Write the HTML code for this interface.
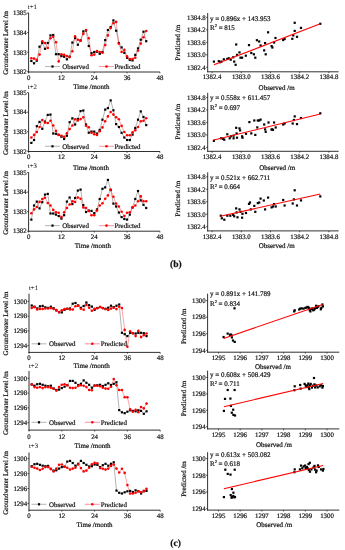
<!DOCTYPE html>
<html><head><meta charset="utf-8"><title>Figure</title>
<style>
html,body{margin:0;padding:0;background:#fff;}
body{width:345px;height:550px;overflow:hidden;}
svg{display:block;}
svg text{font-family:"Liberation Serif", "Times New Roman", serif;fill:#111;stroke:#111;stroke-width:0.2px;text-rendering:geometricPrecision;}
</style></head><body>
<svg width="345" height="550" viewBox="0 0 345 550">
<rect width="345" height="550" fill="#fff"/>
<text x="27.8" y="9.2" font-size="6.7" text-anchor="start" style="stroke-width:0.04px">t+1</text>
<line x1="28.6" y1="12.7" x2="28.6" y2="72.45" stroke="#1a1a1a" stroke-width="0.9"/>
<line x1="28.15" y1="72" x2="159.9" y2="72" stroke="#1a1a1a" stroke-width="0.9"/>
<line x1="27" y1="13.1" x2="28.6" y2="13.1" stroke="#1a1a1a" stroke-width="0.7"/>
<text x="26.7" y="15.4" font-size="6.85" text-anchor="end">1385</text>
<line x1="27" y1="32.65" x2="28.6" y2="32.65" stroke="#1a1a1a" stroke-width="0.7"/>
<text x="26.7" y="34.95" font-size="6.85" text-anchor="end">1384</text>
<line x1="27" y1="52.2" x2="28.6" y2="52.2" stroke="#1a1a1a" stroke-width="0.7"/>
<text x="26.7" y="54.5" font-size="6.85" text-anchor="end">1383</text>
<line x1="27" y1="71.75" x2="28.6" y2="71.75" stroke="#1a1a1a" stroke-width="0.7"/>
<text x="26.7" y="74.05" font-size="6.85" text-anchor="end">1382</text>
<line x1="28.6" y1="72" x2="28.6" y2="73.4" stroke="#1a1a1a" stroke-width="0.7"/>
<text x="28.6" y="79.5" font-size="6.85" text-anchor="middle">0</text>
<line x1="61.43" y1="72" x2="61.43" y2="73.4" stroke="#1a1a1a" stroke-width="0.7"/>
<text x="61.43" y="79.5" font-size="6.85" text-anchor="middle">12</text>
<line x1="94.25" y1="72" x2="94.25" y2="73.4" stroke="#1a1a1a" stroke-width="0.7"/>
<text x="94.25" y="79.5" font-size="6.85" text-anchor="middle">24</text>
<line x1="127.08" y1="72" x2="127.08" y2="73.4" stroke="#1a1a1a" stroke-width="0.7"/>
<text x="127.08" y="79.5" font-size="6.85" text-anchor="middle">36</text>
<line x1="159.9" y1="72" x2="159.9" y2="73.4" stroke="#1a1a1a" stroke-width="0.7"/>
<text x="159.9" y="79.5" font-size="6.85" text-anchor="middle">48</text>
<text x="73.3" y="89.3" font-size="7" text-anchor="start">Time /month</text>
<text transform="translate(7.6 42.85) rotate(-90)" font-size="7" text-anchor="middle">Groundwater Level /m</text>
<polyline points="31.34,61 34.07,63.3 36.81,60.7 39.54,46.7 42.28,43 45.01,48.8 47.75,43 50.48,35.4 53.22,35 55.95,54.2 58.69,54.2 61.43,56.1 64.16,56.7 66.9,59.3 69.63,56.7 72.37,42.6 75.1,38 77.84,44.8 80.57,40.4 83.31,31.4 86.04,30.5 88.78,46 91.51,53.2 94.25,52 96.99,51.7 99.72,53.8 102.46,52 105.19,40.1 107.93,30 110.66,27.1 113.4,20.4 116.13,30.7 118.87,43 121.6,47.4 124.34,52.8 127.08,57.8 129.81,60 132.55,60.4 135.28,54.9 138.02,48.4 140.75,39.7 143.49,31.7 146.22,41.2" fill="none" stroke="#555" stroke-width="0.45"/>
<polyline points="31.34,58.3 34.07,58.6 36.81,59.7 39.54,54.6 42.28,41.2 45.01,43 47.75,48 50.48,38.3 53.22,36.8 55.95,42.2 58.69,61.4 61.43,54.2 64.16,54.9 66.9,56.1 69.63,57.1 72.37,51.3 75.1,36.4 77.84,39.7 80.57,40.7 83.31,33.9 86.04,30 88.78,38.3 91.51,55.2 94.25,54.6 96.99,51 99.72,52 102.46,52.8 105.19,45.1 107.93,35.4 110.66,28.1 113.4,23.3 116.13,21.9 118.87,43.6 121.6,52 124.34,49.9 127.08,56.4 129.81,59 132.55,59 135.28,57.8 138.02,50.6 140.75,43.6 143.49,37.2 146.22,31" fill="none" stroke="#f33" stroke-width="0.45"/>
<rect x="30.24" y="59.9" width="2.2" height="2.2" fill="#000"/>
<rect x="32.97" y="62.2" width="2.2" height="2.2" fill="#000"/>
<rect x="35.71" y="59.6" width="2.2" height="2.2" fill="#000"/>
<rect x="38.44" y="45.6" width="2.2" height="2.2" fill="#000"/>
<rect x="41.18" y="41.9" width="2.2" height="2.2" fill="#000"/>
<rect x="43.91" y="47.7" width="2.2" height="2.2" fill="#000"/>
<rect x="46.65" y="41.9" width="2.2" height="2.2" fill="#000"/>
<rect x="49.38" y="34.3" width="2.2" height="2.2" fill="#000"/>
<rect x="52.12" y="33.9" width="2.2" height="2.2" fill="#000"/>
<rect x="54.85" y="53.1" width="2.2" height="2.2" fill="#000"/>
<rect x="57.59" y="53.1" width="2.2" height="2.2" fill="#000"/>
<rect x="60.33" y="55" width="2.2" height="2.2" fill="#000"/>
<rect x="63.06" y="55.6" width="2.2" height="2.2" fill="#000"/>
<rect x="65.8" y="58.2" width="2.2" height="2.2" fill="#000"/>
<rect x="68.53" y="55.6" width="2.2" height="2.2" fill="#000"/>
<rect x="71.27" y="41.5" width="2.2" height="2.2" fill="#000"/>
<rect x="74" y="36.9" width="2.2" height="2.2" fill="#000"/>
<rect x="76.74" y="43.7" width="2.2" height="2.2" fill="#000"/>
<rect x="79.47" y="39.3" width="2.2" height="2.2" fill="#000"/>
<rect x="82.21" y="30.3" width="2.2" height="2.2" fill="#000"/>
<rect x="84.94" y="29.4" width="2.2" height="2.2" fill="#000"/>
<rect x="87.68" y="44.9" width="2.2" height="2.2" fill="#000"/>
<rect x="90.41" y="52.1" width="2.2" height="2.2" fill="#000"/>
<rect x="93.15" y="50.9" width="2.2" height="2.2" fill="#000"/>
<rect x="95.89" y="50.6" width="2.2" height="2.2" fill="#000"/>
<rect x="98.62" y="52.7" width="2.2" height="2.2" fill="#000"/>
<rect x="101.36" y="50.9" width="2.2" height="2.2" fill="#000"/>
<rect x="104.09" y="39" width="2.2" height="2.2" fill="#000"/>
<rect x="106.83" y="28.9" width="2.2" height="2.2" fill="#000"/>
<rect x="109.56" y="26" width="2.2" height="2.2" fill="#000"/>
<rect x="112.3" y="19.3" width="2.2" height="2.2" fill="#000"/>
<rect x="115.03" y="29.6" width="2.2" height="2.2" fill="#000"/>
<rect x="117.77" y="41.9" width="2.2" height="2.2" fill="#000"/>
<rect x="120.5" y="46.3" width="2.2" height="2.2" fill="#000"/>
<rect x="123.24" y="51.7" width="2.2" height="2.2" fill="#000"/>
<rect x="125.98" y="56.7" width="2.2" height="2.2" fill="#000"/>
<rect x="128.71" y="58.9" width="2.2" height="2.2" fill="#000"/>
<rect x="131.45" y="59.3" width="2.2" height="2.2" fill="#000"/>
<rect x="134.18" y="53.8" width="2.2" height="2.2" fill="#000"/>
<rect x="136.92" y="47.3" width="2.2" height="2.2" fill="#000"/>
<rect x="139.65" y="38.6" width="2.2" height="2.2" fill="#000"/>
<rect x="142.39" y="30.6" width="2.2" height="2.2" fill="#000"/>
<rect x="145.12" y="40.1" width="2.2" height="2.2" fill="#000"/>
<circle cx="31.34" cy="58.3" r="1.3" fill="#f00"/>
<circle cx="34.07" cy="58.6" r="1.3" fill="#f00"/>
<circle cx="36.81" cy="59.7" r="1.3" fill="#f00"/>
<circle cx="39.54" cy="54.6" r="1.3" fill="#f00"/>
<circle cx="42.28" cy="41.2" r="1.3" fill="#f00"/>
<circle cx="45.01" cy="43" r="1.3" fill="#f00"/>
<circle cx="47.75" cy="48" r="1.3" fill="#f00"/>
<circle cx="50.48" cy="38.3" r="1.3" fill="#f00"/>
<circle cx="53.22" cy="36.8" r="1.3" fill="#f00"/>
<circle cx="55.95" cy="42.2" r="1.3" fill="#f00"/>
<circle cx="58.69" cy="61.4" r="1.3" fill="#f00"/>
<circle cx="61.43" cy="54.2" r="1.3" fill="#f00"/>
<circle cx="64.16" cy="54.9" r="1.3" fill="#f00"/>
<circle cx="66.9" cy="56.1" r="1.3" fill="#f00"/>
<circle cx="69.63" cy="57.1" r="1.3" fill="#f00"/>
<circle cx="72.37" cy="51.3" r="1.3" fill="#f00"/>
<circle cx="75.1" cy="36.4" r="1.3" fill="#f00"/>
<circle cx="77.84" cy="39.7" r="1.3" fill="#f00"/>
<circle cx="80.57" cy="40.7" r="1.3" fill="#f00"/>
<circle cx="83.31" cy="33.9" r="1.3" fill="#f00"/>
<circle cx="86.04" cy="30" r="1.3" fill="#f00"/>
<circle cx="88.78" cy="38.3" r="1.3" fill="#f00"/>
<circle cx="91.51" cy="55.2" r="1.3" fill="#f00"/>
<circle cx="94.25" cy="54.6" r="1.3" fill="#f00"/>
<circle cx="96.99" cy="51" r="1.3" fill="#f00"/>
<circle cx="99.72" cy="52" r="1.3" fill="#f00"/>
<circle cx="102.46" cy="52.8" r="1.3" fill="#f00"/>
<circle cx="105.19" cy="45.1" r="1.3" fill="#f00"/>
<circle cx="107.93" cy="35.4" r="1.3" fill="#f00"/>
<circle cx="110.66" cy="28.1" r="1.3" fill="#f00"/>
<circle cx="113.4" cy="23.3" r="1.3" fill="#f00"/>
<circle cx="116.13" cy="21.9" r="1.3" fill="#f00"/>
<circle cx="118.87" cy="43.6" r="1.3" fill="#f00"/>
<circle cx="121.6" cy="52" r="1.3" fill="#f00"/>
<circle cx="124.34" cy="49.9" r="1.3" fill="#f00"/>
<circle cx="127.08" cy="56.4" r="1.3" fill="#f00"/>
<circle cx="129.81" cy="59" r="1.3" fill="#f00"/>
<circle cx="132.55" cy="59" r="1.3" fill="#f00"/>
<circle cx="135.28" cy="57.8" r="1.3" fill="#f00"/>
<circle cx="138.02" cy="50.6" r="1.3" fill="#f00"/>
<circle cx="140.75" cy="43.6" r="1.3" fill="#f00"/>
<circle cx="143.49" cy="37.2" r="1.3" fill="#f00"/>
<circle cx="146.22" cy="31" r="1.3" fill="#f00"/>
<line x1="45" y1="66.5" x2="60" y2="66.5" stroke="#bbb" stroke-width="1.1"/>
<rect x="51.4" y="65.4" width="2.2" height="2.2" fill="#000"/>
<text x="62.3" y="68.85" font-size="6.95" text-anchor="start">Observed</text>
<line x1="99" y1="66.5" x2="114" y2="66.5" stroke="#f9a" stroke-width="1.1"/>
<circle cx="106.5" cy="66.5" r="1.3" fill="#f00"/>
<text x="114.4" y="68.85" font-size="6.95" text-anchor="start">Predicted</text>
<text x="27.8" y="89" font-size="6.7" text-anchor="start" style="stroke-width:0.04px">t+2</text>
<line x1="28.6" y1="92.7" x2="28.6" y2="151.95" stroke="#1a1a1a" stroke-width="0.9"/>
<line x1="28.15" y1="151.5" x2="159.9" y2="151.5" stroke="#1a1a1a" stroke-width="0.9"/>
<line x1="27" y1="92.6" x2="28.6" y2="92.6" stroke="#1a1a1a" stroke-width="0.7"/>
<text x="26.7" y="94.9" font-size="6.85" text-anchor="end">1385</text>
<line x1="27" y1="112.15" x2="28.6" y2="112.15" stroke="#1a1a1a" stroke-width="0.7"/>
<text x="26.7" y="114.45" font-size="6.85" text-anchor="end">1384</text>
<line x1="27" y1="131.7" x2="28.6" y2="131.7" stroke="#1a1a1a" stroke-width="0.7"/>
<text x="26.7" y="134" font-size="6.85" text-anchor="end">1383</text>
<line x1="27" y1="151.25" x2="28.6" y2="151.25" stroke="#1a1a1a" stroke-width="0.7"/>
<text x="26.7" y="153.55" font-size="6.85" text-anchor="end">1382</text>
<line x1="28.6" y1="151.5" x2="28.6" y2="152.9" stroke="#1a1a1a" stroke-width="0.7"/>
<text x="28.6" y="159.1" font-size="6.85" text-anchor="middle">0</text>
<line x1="61.43" y1="151.5" x2="61.43" y2="152.9" stroke="#1a1a1a" stroke-width="0.7"/>
<text x="61.43" y="159.1" font-size="6.85" text-anchor="middle">12</text>
<line x1="94.25" y1="151.5" x2="94.25" y2="152.9" stroke="#1a1a1a" stroke-width="0.7"/>
<text x="94.25" y="159.1" font-size="6.85" text-anchor="middle">24</text>
<line x1="127.08" y1="151.5" x2="127.08" y2="152.9" stroke="#1a1a1a" stroke-width="0.7"/>
<text x="127.08" y="159.1" font-size="6.85" text-anchor="middle">36</text>
<line x1="159.9" y1="151.5" x2="159.9" y2="152.9" stroke="#1a1a1a" stroke-width="0.7"/>
<text x="159.9" y="159.1" font-size="6.85" text-anchor="middle">48</text>
<text x="72.9" y="169.6" font-size="7" text-anchor="start">Time /month</text>
<text transform="translate(7.6 123.2) rotate(-90)" font-size="7" text-anchor="middle">Groundwater Level /m</text>
<polyline points="31.34,142.9 34.07,140 36.81,126.2 39.54,121.9 42.28,128.8 45.01,121.6 47.75,114.9 50.48,114.6 53.22,133.5 55.95,133.8 58.69,134.9 61.43,136.7 64.16,139 66.9,135.7 69.63,122.2 72.37,118.3 75.1,124.5 77.84,119 80.57,111.1 83.31,110.5 86.04,124.5 88.78,132.7 91.51,131.6 94.25,131.6 96.99,133.6 99.72,129.9 102.46,119.7 105.19,109.6 107.93,108.1 110.66,100.4 113.4,110.3 116.13,124.1 118.87,127 121.6,132.8 124.34,137.5 127.08,140 129.81,140 132.55,134.6 135.28,128 138.02,119.7 140.75,111.4 143.49,117 146.22,125.1" fill="none" stroke="#555" stroke-width="0.45"/>
<polyline points="31.34,137.5 34.07,134.9 36.81,132 39.54,127 42.28,120.1 45.01,122.6 47.75,123 50.48,120.7 53.22,125.5 55.95,130.9 58.69,134.9 61.43,135.7 64.16,136.7 66.9,133.2 69.63,129.1 72.37,125.5 75.1,119.2 77.84,120.4 80.57,119.1 83.31,117.3 86.04,125.8 88.78,127.3 91.51,132.7 94.25,134.3 96.99,134.9 99.72,131.3 102.46,127.4 105.19,121.2 107.93,116.4 110.66,112 113.4,114.6 116.13,117.2 118.87,119.3 121.6,125.9 124.34,132 127.08,135.2 129.81,135.2 132.55,132.3 135.28,130.3 138.02,127 140.75,121.2 143.49,120.7 146.22,118.3" fill="none" stroke="#f33" stroke-width="0.45"/>
<rect x="30.24" y="141.8" width="2.2" height="2.2" fill="#000"/>
<rect x="32.97" y="138.9" width="2.2" height="2.2" fill="#000"/>
<rect x="35.71" y="125.1" width="2.2" height="2.2" fill="#000"/>
<rect x="38.44" y="120.8" width="2.2" height="2.2" fill="#000"/>
<rect x="41.18" y="127.7" width="2.2" height="2.2" fill="#000"/>
<rect x="43.91" y="120.5" width="2.2" height="2.2" fill="#000"/>
<rect x="46.65" y="113.8" width="2.2" height="2.2" fill="#000"/>
<rect x="49.38" y="113.5" width="2.2" height="2.2" fill="#000"/>
<rect x="52.12" y="132.4" width="2.2" height="2.2" fill="#000"/>
<rect x="54.85" y="132.7" width="2.2" height="2.2" fill="#000"/>
<rect x="57.59" y="133.8" width="2.2" height="2.2" fill="#000"/>
<rect x="60.33" y="135.6" width="2.2" height="2.2" fill="#000"/>
<rect x="63.06" y="137.9" width="2.2" height="2.2" fill="#000"/>
<rect x="65.8" y="134.6" width="2.2" height="2.2" fill="#000"/>
<rect x="68.53" y="121.1" width="2.2" height="2.2" fill="#000"/>
<rect x="71.27" y="117.2" width="2.2" height="2.2" fill="#000"/>
<rect x="74" y="123.4" width="2.2" height="2.2" fill="#000"/>
<rect x="76.74" y="117.9" width="2.2" height="2.2" fill="#000"/>
<rect x="79.47" y="110" width="2.2" height="2.2" fill="#000"/>
<rect x="82.21" y="109.4" width="2.2" height="2.2" fill="#000"/>
<rect x="84.94" y="123.4" width="2.2" height="2.2" fill="#000"/>
<rect x="87.68" y="131.6" width="2.2" height="2.2" fill="#000"/>
<rect x="90.41" y="130.5" width="2.2" height="2.2" fill="#000"/>
<rect x="93.15" y="130.5" width="2.2" height="2.2" fill="#000"/>
<rect x="95.89" y="132.5" width="2.2" height="2.2" fill="#000"/>
<rect x="98.62" y="128.8" width="2.2" height="2.2" fill="#000"/>
<rect x="101.36" y="118.6" width="2.2" height="2.2" fill="#000"/>
<rect x="104.09" y="108.5" width="2.2" height="2.2" fill="#000"/>
<rect x="106.83" y="107" width="2.2" height="2.2" fill="#000"/>
<rect x="109.56" y="99.3" width="2.2" height="2.2" fill="#000"/>
<rect x="112.3" y="109.2" width="2.2" height="2.2" fill="#000"/>
<rect x="115.03" y="123" width="2.2" height="2.2" fill="#000"/>
<rect x="117.77" y="125.9" width="2.2" height="2.2" fill="#000"/>
<rect x="120.5" y="131.7" width="2.2" height="2.2" fill="#000"/>
<rect x="123.24" y="136.4" width="2.2" height="2.2" fill="#000"/>
<rect x="125.98" y="138.9" width="2.2" height="2.2" fill="#000"/>
<rect x="128.71" y="138.9" width="2.2" height="2.2" fill="#000"/>
<rect x="131.45" y="133.5" width="2.2" height="2.2" fill="#000"/>
<rect x="134.18" y="126.9" width="2.2" height="2.2" fill="#000"/>
<rect x="136.92" y="118.6" width="2.2" height="2.2" fill="#000"/>
<rect x="139.65" y="110.3" width="2.2" height="2.2" fill="#000"/>
<rect x="142.39" y="115.9" width="2.2" height="2.2" fill="#000"/>
<rect x="145.12" y="124" width="2.2" height="2.2" fill="#000"/>
<circle cx="31.34" cy="137.5" r="1.3" fill="#f00"/>
<circle cx="34.07" cy="134.9" r="1.3" fill="#f00"/>
<circle cx="36.81" cy="132" r="1.3" fill="#f00"/>
<circle cx="39.54" cy="127" r="1.3" fill="#f00"/>
<circle cx="42.28" cy="120.1" r="1.3" fill="#f00"/>
<circle cx="45.01" cy="122.6" r="1.3" fill="#f00"/>
<circle cx="47.75" cy="123" r="1.3" fill="#f00"/>
<circle cx="50.48" cy="120.7" r="1.3" fill="#f00"/>
<circle cx="53.22" cy="125.5" r="1.3" fill="#f00"/>
<circle cx="55.95" cy="130.9" r="1.3" fill="#f00"/>
<circle cx="58.69" cy="134.9" r="1.3" fill="#f00"/>
<circle cx="61.43" cy="135.7" r="1.3" fill="#f00"/>
<circle cx="64.16" cy="136.7" r="1.3" fill="#f00"/>
<circle cx="66.9" cy="133.2" r="1.3" fill="#f00"/>
<circle cx="69.63" cy="129.1" r="1.3" fill="#f00"/>
<circle cx="72.37" cy="125.5" r="1.3" fill="#f00"/>
<circle cx="75.1" cy="119.2" r="1.3" fill="#f00"/>
<circle cx="77.84" cy="120.4" r="1.3" fill="#f00"/>
<circle cx="80.57" cy="119.1" r="1.3" fill="#f00"/>
<circle cx="83.31" cy="117.3" r="1.3" fill="#f00"/>
<circle cx="86.04" cy="125.8" r="1.3" fill="#f00"/>
<circle cx="88.78" cy="127.3" r="1.3" fill="#f00"/>
<circle cx="91.51" cy="132.7" r="1.3" fill="#f00"/>
<circle cx="94.25" cy="134.3" r="1.3" fill="#f00"/>
<circle cx="96.99" cy="134.9" r="1.3" fill="#f00"/>
<circle cx="99.72" cy="131.3" r="1.3" fill="#f00"/>
<circle cx="102.46" cy="127.4" r="1.3" fill="#f00"/>
<circle cx="105.19" cy="121.2" r="1.3" fill="#f00"/>
<circle cx="107.93" cy="116.4" r="1.3" fill="#f00"/>
<circle cx="110.66" cy="112" r="1.3" fill="#f00"/>
<circle cx="113.4" cy="114.6" r="1.3" fill="#f00"/>
<circle cx="116.13" cy="117.2" r="1.3" fill="#f00"/>
<circle cx="118.87" cy="119.3" r="1.3" fill="#f00"/>
<circle cx="121.6" cy="125.9" r="1.3" fill="#f00"/>
<circle cx="124.34" cy="132" r="1.3" fill="#f00"/>
<circle cx="127.08" cy="135.2" r="1.3" fill="#f00"/>
<circle cx="129.81" cy="135.2" r="1.3" fill="#f00"/>
<circle cx="132.55" cy="132.3" r="1.3" fill="#f00"/>
<circle cx="135.28" cy="130.3" r="1.3" fill="#f00"/>
<circle cx="138.02" cy="127" r="1.3" fill="#f00"/>
<circle cx="140.75" cy="121.2" r="1.3" fill="#f00"/>
<circle cx="143.49" cy="120.7" r="1.3" fill="#f00"/>
<circle cx="146.22" cy="118.3" r="1.3" fill="#f00"/>
<line x1="45" y1="146.3" x2="60" y2="146.3" stroke="#bbb" stroke-width="1.1"/>
<rect x="51.4" y="145.2" width="2.2" height="2.2" fill="#000"/>
<text x="62.3" y="148.65" font-size="6.95" text-anchor="start">Observed</text>
<line x1="99" y1="146.3" x2="114" y2="146.3" stroke="#f9a" stroke-width="1.1"/>
<circle cx="106.5" cy="146.3" r="1.3" fill="#f00"/>
<text x="114.4" y="148.65" font-size="6.95" text-anchor="start">Predicted</text>
<text x="27.8" y="168.2" font-size="6.7" text-anchor="start" style="stroke-width:0.04px">t+3</text>
<line x1="28.6" y1="172.4" x2="28.6" y2="231.65" stroke="#1a1a1a" stroke-width="0.9"/>
<line x1="28.15" y1="231.2" x2="159.9" y2="231.2" stroke="#1a1a1a" stroke-width="0.9"/>
<line x1="27" y1="172.5" x2="28.6" y2="172.5" stroke="#1a1a1a" stroke-width="0.7"/>
<text x="26.7" y="174.8" font-size="6.85" text-anchor="end">1385</text>
<line x1="27" y1="192.05" x2="28.6" y2="192.05" stroke="#1a1a1a" stroke-width="0.7"/>
<text x="26.7" y="194.35" font-size="6.85" text-anchor="end">1384</text>
<line x1="27" y1="211.6" x2="28.6" y2="211.6" stroke="#1a1a1a" stroke-width="0.7"/>
<text x="26.7" y="213.9" font-size="6.85" text-anchor="end">1383</text>
<line x1="27" y1="231.15" x2="28.6" y2="231.15" stroke="#1a1a1a" stroke-width="0.7"/>
<text x="26.7" y="233.45" font-size="6.85" text-anchor="end">1382</text>
<line x1="28.6" y1="231.2" x2="28.6" y2="232.6" stroke="#1a1a1a" stroke-width="0.7"/>
<text x="28.6" y="238.5" font-size="6.85" text-anchor="middle">0</text>
<line x1="61.43" y1="231.2" x2="61.43" y2="232.6" stroke="#1a1a1a" stroke-width="0.7"/>
<text x="61.43" y="238.5" font-size="6.85" text-anchor="middle">12</text>
<line x1="94.25" y1="231.2" x2="94.25" y2="232.6" stroke="#1a1a1a" stroke-width="0.7"/>
<text x="94.25" y="238.5" font-size="6.85" text-anchor="middle">24</text>
<line x1="127.08" y1="231.2" x2="127.08" y2="232.6" stroke="#1a1a1a" stroke-width="0.7"/>
<text x="127.08" y="238.5" font-size="6.85" text-anchor="middle">36</text>
<line x1="159.9" y1="231.2" x2="159.9" y2="232.6" stroke="#1a1a1a" stroke-width="0.7"/>
<text x="159.9" y="238.5" font-size="6.85" text-anchor="middle">48</text>
<text x="74.8" y="247.9" font-size="7" text-anchor="start">Time /month</text>
<text transform="translate(7.6 202.9) rotate(-90)" font-size="7" text-anchor="middle">Groundwater Level /m</text>
<polyline points="31.34,219.6 34.07,205.5 36.81,201.6 39.54,208.4 42.28,202.2 45.01,194.6 47.75,193.9 50.48,213.5 53.22,213.5 55.95,214.6 58.69,216.1 61.43,218.6 64.16,215.2 66.9,201.6 69.63,197.5 72.37,204.1 75.1,198 77.84,190.6 80.57,189.6 83.31,205.1 86.04,212 88.78,210.6 91.51,210.9 94.25,213.2 96.99,209.4 99.72,199 102.46,188.8 105.19,187.4 107.93,179.9 110.66,190 113.4,203.6 116.13,206.5 118.87,212.5 121.6,217.1 124.34,219 127.08,219.6 129.81,214.6 132.55,207.4 135.28,199 138.02,191 140.75,200.4 143.49,204.8 146.22,208" fill="none" stroke="#555" stroke-width="0.45"/>
<polyline points="31.34,213.2 34.07,209.4 36.81,207 39.54,201.9 42.28,199 45.01,197.8 47.75,203 50.48,205.5 53.22,209.9 55.95,212.3 58.69,212.8 61.43,217.1 64.16,212.3 66.9,208 69.63,204.5 72.37,201.2 75.1,202 77.84,197.5 80.57,198.7 83.31,207.4 86.04,208 88.78,210.9 91.51,215.2 94.25,215.2 96.99,210.6 99.72,205.5 102.46,203.3 105.19,198.7 107.93,195.4 110.66,189.6 113.4,196.8 116.13,203.6 118.87,206.5 121.6,211.7 124.34,216.1 127.08,212.8 129.81,212.3 132.55,207.4 135.28,205.5 138.02,201.2 140.75,196.4 143.49,201.2 146.22,201.2" fill="none" stroke="#f33" stroke-width="0.45"/>
<rect x="30.24" y="218.5" width="2.2" height="2.2" fill="#000"/>
<rect x="32.97" y="204.4" width="2.2" height="2.2" fill="#000"/>
<rect x="35.71" y="200.5" width="2.2" height="2.2" fill="#000"/>
<rect x="38.44" y="207.3" width="2.2" height="2.2" fill="#000"/>
<rect x="41.18" y="201.1" width="2.2" height="2.2" fill="#000"/>
<rect x="43.91" y="193.5" width="2.2" height="2.2" fill="#000"/>
<rect x="46.65" y="192.8" width="2.2" height="2.2" fill="#000"/>
<rect x="49.38" y="212.4" width="2.2" height="2.2" fill="#000"/>
<rect x="52.12" y="212.4" width="2.2" height="2.2" fill="#000"/>
<rect x="54.85" y="213.5" width="2.2" height="2.2" fill="#000"/>
<rect x="57.59" y="215" width="2.2" height="2.2" fill="#000"/>
<rect x="60.33" y="217.5" width="2.2" height="2.2" fill="#000"/>
<rect x="63.06" y="214.1" width="2.2" height="2.2" fill="#000"/>
<rect x="65.8" y="200.5" width="2.2" height="2.2" fill="#000"/>
<rect x="68.53" y="196.4" width="2.2" height="2.2" fill="#000"/>
<rect x="71.27" y="203" width="2.2" height="2.2" fill="#000"/>
<rect x="74" y="196.9" width="2.2" height="2.2" fill="#000"/>
<rect x="76.74" y="189.5" width="2.2" height="2.2" fill="#000"/>
<rect x="79.47" y="188.5" width="2.2" height="2.2" fill="#000"/>
<rect x="82.21" y="204" width="2.2" height="2.2" fill="#000"/>
<rect x="84.94" y="210.9" width="2.2" height="2.2" fill="#000"/>
<rect x="87.68" y="209.5" width="2.2" height="2.2" fill="#000"/>
<rect x="90.41" y="209.8" width="2.2" height="2.2" fill="#000"/>
<rect x="93.15" y="212.1" width="2.2" height="2.2" fill="#000"/>
<rect x="95.89" y="208.3" width="2.2" height="2.2" fill="#000"/>
<rect x="98.62" y="197.9" width="2.2" height="2.2" fill="#000"/>
<rect x="101.36" y="187.7" width="2.2" height="2.2" fill="#000"/>
<rect x="104.09" y="186.3" width="2.2" height="2.2" fill="#000"/>
<rect x="106.83" y="178.8" width="2.2" height="2.2" fill="#000"/>
<rect x="109.56" y="188.9" width="2.2" height="2.2" fill="#000"/>
<rect x="112.3" y="202.5" width="2.2" height="2.2" fill="#000"/>
<rect x="115.03" y="205.4" width="2.2" height="2.2" fill="#000"/>
<rect x="117.77" y="211.4" width="2.2" height="2.2" fill="#000"/>
<rect x="120.5" y="216" width="2.2" height="2.2" fill="#000"/>
<rect x="123.24" y="217.9" width="2.2" height="2.2" fill="#000"/>
<rect x="125.98" y="218.5" width="2.2" height="2.2" fill="#000"/>
<rect x="128.71" y="213.5" width="2.2" height="2.2" fill="#000"/>
<rect x="131.45" y="206.3" width="2.2" height="2.2" fill="#000"/>
<rect x="134.18" y="197.9" width="2.2" height="2.2" fill="#000"/>
<rect x="136.92" y="189.9" width="2.2" height="2.2" fill="#000"/>
<rect x="139.65" y="199.3" width="2.2" height="2.2" fill="#000"/>
<rect x="142.39" y="203.7" width="2.2" height="2.2" fill="#000"/>
<rect x="145.12" y="206.9" width="2.2" height="2.2" fill="#000"/>
<circle cx="31.34" cy="213.2" r="1.3" fill="#f00"/>
<circle cx="34.07" cy="209.4" r="1.3" fill="#f00"/>
<circle cx="36.81" cy="207" r="1.3" fill="#f00"/>
<circle cx="39.54" cy="201.9" r="1.3" fill="#f00"/>
<circle cx="42.28" cy="199" r="1.3" fill="#f00"/>
<circle cx="45.01" cy="197.8" r="1.3" fill="#f00"/>
<circle cx="47.75" cy="203" r="1.3" fill="#f00"/>
<circle cx="50.48" cy="205.5" r="1.3" fill="#f00"/>
<circle cx="53.22" cy="209.9" r="1.3" fill="#f00"/>
<circle cx="55.95" cy="212.3" r="1.3" fill="#f00"/>
<circle cx="58.69" cy="212.8" r="1.3" fill="#f00"/>
<circle cx="61.43" cy="217.1" r="1.3" fill="#f00"/>
<circle cx="64.16" cy="212.3" r="1.3" fill="#f00"/>
<circle cx="66.9" cy="208" r="1.3" fill="#f00"/>
<circle cx="69.63" cy="204.5" r="1.3" fill="#f00"/>
<circle cx="72.37" cy="201.2" r="1.3" fill="#f00"/>
<circle cx="75.1" cy="202" r="1.3" fill="#f00"/>
<circle cx="77.84" cy="197.5" r="1.3" fill="#f00"/>
<circle cx="80.57" cy="198.7" r="1.3" fill="#f00"/>
<circle cx="83.31" cy="207.4" r="1.3" fill="#f00"/>
<circle cx="86.04" cy="208" r="1.3" fill="#f00"/>
<circle cx="88.78" cy="210.9" r="1.3" fill="#f00"/>
<circle cx="91.51" cy="215.2" r="1.3" fill="#f00"/>
<circle cx="94.25" cy="215.2" r="1.3" fill="#f00"/>
<circle cx="96.99" cy="210.6" r="1.3" fill="#f00"/>
<circle cx="99.72" cy="205.5" r="1.3" fill="#f00"/>
<circle cx="102.46" cy="203.3" r="1.3" fill="#f00"/>
<circle cx="105.19" cy="198.7" r="1.3" fill="#f00"/>
<circle cx="107.93" cy="195.4" r="1.3" fill="#f00"/>
<circle cx="110.66" cy="189.6" r="1.3" fill="#f00"/>
<circle cx="113.4" cy="196.8" r="1.3" fill="#f00"/>
<circle cx="116.13" cy="203.6" r="1.3" fill="#f00"/>
<circle cx="118.87" cy="206.5" r="1.3" fill="#f00"/>
<circle cx="121.6" cy="211.7" r="1.3" fill="#f00"/>
<circle cx="124.34" cy="216.1" r="1.3" fill="#f00"/>
<circle cx="127.08" cy="212.8" r="1.3" fill="#f00"/>
<circle cx="129.81" cy="212.3" r="1.3" fill="#f00"/>
<circle cx="132.55" cy="207.4" r="1.3" fill="#f00"/>
<circle cx="135.28" cy="205.5" r="1.3" fill="#f00"/>
<circle cx="138.02" cy="201.2" r="1.3" fill="#f00"/>
<circle cx="140.75" cy="196.4" r="1.3" fill="#f00"/>
<circle cx="143.49" cy="201.2" r="1.3" fill="#f00"/>
<circle cx="146.22" cy="201.2" r="1.3" fill="#f00"/>
<line x1="45" y1="225.6" x2="60" y2="225.6" stroke="#bbb" stroke-width="1.1"/>
<rect x="51.4" y="224.5" width="2.2" height="2.2" fill="#000"/>
<text x="62.3" y="227.95" font-size="6.95" text-anchor="start">Observed</text>
<line x1="99" y1="225.6" x2="114" y2="225.6" stroke="#f9a" stroke-width="1.1"/>
<circle cx="106.5" cy="225.6" r="1.3" fill="#f00"/>
<text x="114.4" y="227.95" font-size="6.95" text-anchor="start">Predicted</text>
<line x1="207.7" y1="13" x2="207.7" y2="72.25" stroke="#1a1a1a" stroke-width="0.9"/>
<line x1="207.25" y1="71.8" x2="338.6" y2="71.8" stroke="#1a1a1a" stroke-width="0.9"/>
<line x1="206.1" y1="17.4" x2="207.7" y2="17.4" stroke="#1a1a1a" stroke-width="0.7"/>
<text x="205.8" y="19.7" font-size="6.85" text-anchor="end">1384.8</text>
<line x1="206.1" y1="29.87" x2="207.7" y2="29.87" stroke="#1a1a1a" stroke-width="0.7"/>
<text x="205.8" y="32.17" font-size="6.85" text-anchor="end">1384.2</text>
<line x1="206.1" y1="42.34" x2="207.7" y2="42.34" stroke="#1a1a1a" stroke-width="0.7"/>
<text x="205.8" y="44.64" font-size="6.85" text-anchor="end">1383.6</text>
<line x1="206.1" y1="54.81" x2="207.7" y2="54.81" stroke="#1a1a1a" stroke-width="0.7"/>
<text x="205.8" y="57.11" font-size="6.85" text-anchor="end">1383.0</text>
<line x1="206.1" y1="67.28" x2="207.7" y2="67.28" stroke="#1a1a1a" stroke-width="0.7"/>
<text x="205.8" y="69.58" font-size="6.85" text-anchor="end">1382.4</text>
<line x1="212.1" y1="71.8" x2="212.1" y2="73.2" stroke="#1a1a1a" stroke-width="0.7"/>
<text x="212.1" y="79.2" font-size="6.85" text-anchor="middle">1382.4</text>
<line x1="241.3" y1="71.8" x2="241.3" y2="73.2" stroke="#1a1a1a" stroke-width="0.7"/>
<text x="241.3" y="79.2" font-size="6.85" text-anchor="middle">1383.0</text>
<line x1="270.5" y1="71.8" x2="270.5" y2="73.2" stroke="#1a1a1a" stroke-width="0.7"/>
<text x="270.5" y="79.2" font-size="6.85" text-anchor="middle">1383.6</text>
<line x1="299.7" y1="71.8" x2="299.7" y2="73.2" stroke="#1a1a1a" stroke-width="0.7"/>
<text x="299.7" y="79.2" font-size="6.85" text-anchor="middle">1384.2</text>
<line x1="328.9" y1="71.8" x2="328.9" y2="73.2" stroke="#1a1a1a" stroke-width="0.7"/>
<text x="328.9" y="79.2" font-size="6.85" text-anchor="middle">1384.8</text>
<text x="276.6" y="89.6" font-size="7" text-anchor="middle">Observed /m</text>
<text transform="translate(179.9 42.6) rotate(-90)" font-size="7" text-anchor="middle">Predicted /m</text>
<rect x="212.8" y="60.5" width="2.2" height="2.2" fill="#000"/>
<rect x="217.7" y="60.1" width="2.2" height="2.2" fill="#000"/>
<rect x="219.1" y="61.1" width="2.2" height="2.2" fill="#000"/>
<rect x="220.3" y="60.5" width="2.2" height="2.2" fill="#000"/>
<rect x="222.7" y="58.2" width="2.2" height="2.2" fill="#000"/>
<rect x="226.2" y="57.8" width="2.2" height="2.2" fill="#000"/>
<rect x="227.6" y="57.2" width="2.2" height="2.2" fill="#000"/>
<rect x="229.6" y="58.6" width="2.2" height="2.2" fill="#000"/>
<rect x="232.1" y="56.2" width="2.2" height="2.2" fill="#000"/>
<rect x="233.1" y="60.5" width="2.2" height="2.2" fill="#000"/>
<rect x="234.5" y="63.7" width="2.2" height="2.2" fill="#000"/>
<rect x="235.1" y="43.4" width="2.2" height="2.2" fill="#000"/>
<rect x="235.9" y="53.8" width="2.2" height="2.2" fill="#000"/>
<rect x="238.4" y="51.3" width="2.2" height="2.2" fill="#000"/>
<rect x="239.4" y="56.6" width="2.2" height="2.2" fill="#000"/>
<rect x="241" y="56.6" width="2.2" height="2.2" fill="#000"/>
<rect x="244.7" y="54.6" width="2.2" height="2.2" fill="#000"/>
<rect x="247.9" y="44" width="2.2" height="2.2" fill="#000"/>
<rect x="250.2" y="51.9" width="2.2" height="2.2" fill="#000"/>
<rect x="252.8" y="53.2" width="2.2" height="2.2" fill="#000"/>
<rect x="254.2" y="56.6" width="2.2" height="2.2" fill="#000"/>
<rect x="255.8" y="39.1" width="2.2" height="2.2" fill="#000"/>
<rect x="258.1" y="40.4" width="2.2" height="2.2" fill="#000"/>
<rect x="259.5" y="44.4" width="2.2" height="2.2" fill="#000"/>
<rect x="263.1" y="49.3" width="2.2" height="2.2" fill="#000"/>
<rect x="264" y="42" width="2.2" height="2.2" fill="#000"/>
<rect x="264.6" y="53.2" width="2.2" height="2.2" fill="#000"/>
<rect x="267" y="31.2" width="2.2" height="2.2" fill="#000"/>
<rect x="270.5" y="45" width="2.2" height="2.2" fill="#000"/>
<rect x="271.3" y="46.4" width="2.2" height="2.2" fill="#000"/>
<rect x="273" y="41.4" width="2.2" height="2.2" fill="#000"/>
<rect x="274.4" y="36.9" width="2.2" height="2.2" fill="#000"/>
<rect x="282.1" y="38.9" width="2.2" height="2.2" fill="#000"/>
<rect x="283.5" y="37.9" width="2.2" height="2.2" fill="#000"/>
<rect x="291.2" y="37.7" width="2.2" height="2.2" fill="#000"/>
<rect x="292.2" y="34.3" width="2.2" height="2.2" fill="#000"/>
<rect x="293.6" y="29.8" width="2.2" height="2.2" fill="#000"/>
<rect x="293.6" y="21.7" width="2.2" height="2.2" fill="#000"/>
<rect x="295.9" y="35.7" width="2.2" height="2.2" fill="#000"/>
<rect x="299.9" y="26.8" width="2.2" height="2.2" fill="#000"/>
<rect x="319.2" y="22.7" width="2.2" height="2.2" fill="#000"/>
<line x1="213.9" y1="64.8" x2="320.3" y2="23.8" stroke="#f00" stroke-width="1.1"/>
<text x="210.1" y="20.5" font-size="7" text-anchor="start">y = 0.896x + 143.953</text>
<text x="210.1" y="29.8" font-size="7" text-anchor="start">R<tspan font-size="4.3" dy="-2.7">2</tspan><tspan dy="2.7"> = 815</tspan></text>
<line x1="207.7" y1="92.8" x2="207.7" y2="151.75" stroke="#1a1a1a" stroke-width="0.9"/>
<line x1="207.25" y1="151.3" x2="338.6" y2="151.3" stroke="#1a1a1a" stroke-width="0.9"/>
<line x1="206.1" y1="97.5" x2="207.7" y2="97.5" stroke="#1a1a1a" stroke-width="0.7"/>
<text x="205.8" y="99.8" font-size="6.85" text-anchor="end">1384.8</text>
<line x1="206.1" y1="109.97" x2="207.7" y2="109.97" stroke="#1a1a1a" stroke-width="0.7"/>
<text x="205.8" y="112.27" font-size="6.85" text-anchor="end">1384.2</text>
<line x1="206.1" y1="122.44" x2="207.7" y2="122.44" stroke="#1a1a1a" stroke-width="0.7"/>
<text x="205.8" y="124.74" font-size="6.85" text-anchor="end">1383.6</text>
<line x1="206.1" y1="134.91" x2="207.7" y2="134.91" stroke="#1a1a1a" stroke-width="0.7"/>
<text x="205.8" y="137.21" font-size="6.85" text-anchor="end">1383.0</text>
<line x1="206.1" y1="147.38" x2="207.7" y2="147.38" stroke="#1a1a1a" stroke-width="0.7"/>
<text x="205.8" y="149.68" font-size="6.85" text-anchor="end">1382.4</text>
<line x1="212.1" y1="151.3" x2="212.1" y2="152.7" stroke="#1a1a1a" stroke-width="0.7"/>
<text x="212.1" y="159.2" font-size="6.85" text-anchor="middle">1382.4</text>
<line x1="241.3" y1="151.3" x2="241.3" y2="152.7" stroke="#1a1a1a" stroke-width="0.7"/>
<text x="241.3" y="159.2" font-size="6.85" text-anchor="middle">1383.0</text>
<line x1="270.5" y1="151.3" x2="270.5" y2="152.7" stroke="#1a1a1a" stroke-width="0.7"/>
<text x="270.5" y="159.2" font-size="6.85" text-anchor="middle">1383.6</text>
<line x1="299.7" y1="151.3" x2="299.7" y2="152.7" stroke="#1a1a1a" stroke-width="0.7"/>
<text x="299.7" y="159.2" font-size="6.85" text-anchor="middle">1384.2</text>
<line x1="328.9" y1="151.3" x2="328.9" y2="152.7" stroke="#1a1a1a" stroke-width="0.7"/>
<text x="328.9" y="159.2" font-size="6.85" text-anchor="middle">1384.8</text>
<text x="277.2" y="170.1" font-size="7" text-anchor="middle">Observed /m</text>
<text transform="translate(179.9 121.65) rotate(-90)" font-size="7" text-anchor="middle">Predicted /m</text>
<rect x="212.8" y="139.7" width="2.2" height="2.2" fill="#000"/>
<rect x="220.1" y="137.2" width="2.2" height="2.2" fill="#000"/>
<rect x="222.1" y="137.8" width="2.2" height="2.2" fill="#000"/>
<rect x="223.2" y="138.6" width="2.2" height="2.2" fill="#000"/>
<rect x="226.2" y="133.2" width="2.2" height="2.2" fill="#000"/>
<rect x="228.6" y="137.2" width="2.2" height="2.2" fill="#000"/>
<rect x="229.9" y="135.2" width="2.2" height="2.2" fill="#000"/>
<rect x="232.5" y="134.6" width="2.2" height="2.2" fill="#000"/>
<rect x="232.5" y="137.2" width="2.2" height="2.2" fill="#000"/>
<rect x="235.1" y="126.7" width="2.2" height="2.2" fill="#000"/>
<rect x="235.5" y="132.3" width="2.2" height="2.2" fill="#000"/>
<rect x="235.9" y="136.6" width="2.2" height="2.2" fill="#000"/>
<rect x="238.4" y="127.3" width="2.2" height="2.2" fill="#000"/>
<rect x="239" y="129.3" width="2.2" height="2.2" fill="#000"/>
<rect x="241" y="135.2" width="2.2" height="2.2" fill="#000"/>
<rect x="241.4" y="136.6" width="2.2" height="2.2" fill="#000"/>
<rect x="244.9" y="132.7" width="2.2" height="2.2" fill="#000"/>
<rect x="248.3" y="121" width="2.2" height="2.2" fill="#000"/>
<rect x="250.2" y="132.3" width="2.2" height="2.2" fill="#000"/>
<rect x="253.2" y="119.4" width="2.2" height="2.2" fill="#000"/>
<rect x="254.2" y="133.8" width="2.2" height="2.2" fill="#000"/>
<rect x="256.7" y="119.4" width="2.2" height="2.2" fill="#000"/>
<rect x="258.1" y="119.4" width="2.2" height="2.2" fill="#000"/>
<rect x="259.5" y="118.5" width="2.2" height="2.2" fill="#000"/>
<rect x="256.2" y="126.3" width="2.2" height="2.2" fill="#000"/>
<rect x="263.1" y="123.4" width="2.2" height="2.2" fill="#000"/>
<rect x="264" y="128.3" width="2.2" height="2.2" fill="#000"/>
<rect x="264.6" y="130.7" width="2.2" height="2.2" fill="#000"/>
<rect x="267.4" y="121.4" width="2.2" height="2.2" fill="#000"/>
<rect x="270.9" y="128.3" width="2.2" height="2.2" fill="#000"/>
<rect x="271.9" y="128.7" width="2.2" height="2.2" fill="#000"/>
<rect x="270.5" y="128.5" width="2.2" height="2.2" fill="#000"/>
<rect x="273" y="121.4" width="2.2" height="2.2" fill="#000"/>
<rect x="274.6" y="126.4" width="2.2" height="2.2" fill="#000"/>
<rect x="282.1" y="123.4" width="2.2" height="2.2" fill="#000"/>
<rect x="283.5" y="122.4" width="2.2" height="2.2" fill="#000"/>
<rect x="291.6" y="122.4" width="2.2" height="2.2" fill="#000"/>
<rect x="292.8" y="118.9" width="2.2" height="2.2" fill="#000"/>
<rect x="293.6" y="115.3" width="2.2" height="2.2" fill="#000"/>
<rect x="295.9" y="123" width="2.2" height="2.2" fill="#000"/>
<rect x="299.9" y="116.9" width="2.2" height="2.2" fill="#000"/>
<rect x="319.2" y="112.2" width="2.2" height="2.2" fill="#000"/>
<line x1="213.9" y1="140" x2="320.3" y2="114" stroke="#f00" stroke-width="1.1"/>
<text x="210.1" y="100.1" font-size="7" text-anchor="start">y = 0.558x + 611.457</text>
<text x="210.1" y="109.6" font-size="7" text-anchor="start">R<tspan font-size="4.3" dy="-2.7">2</tspan><tspan dy="2.7"> = 0.697</tspan></text>
<line x1="207.7" y1="172.3" x2="207.7" y2="231.35" stroke="#1a1a1a" stroke-width="0.9"/>
<line x1="207.25" y1="230.9" x2="338.6" y2="230.9" stroke="#1a1a1a" stroke-width="0.9"/>
<line x1="206.1" y1="176.8" x2="207.7" y2="176.8" stroke="#1a1a1a" stroke-width="0.7"/>
<text x="205.8" y="179.1" font-size="6.85" text-anchor="end">1384.8</text>
<line x1="206.1" y1="189.27" x2="207.7" y2="189.27" stroke="#1a1a1a" stroke-width="0.7"/>
<text x="205.8" y="191.57" font-size="6.85" text-anchor="end">1384.2</text>
<line x1="206.1" y1="201.74" x2="207.7" y2="201.74" stroke="#1a1a1a" stroke-width="0.7"/>
<text x="205.8" y="204.04" font-size="6.85" text-anchor="end">1383.6</text>
<line x1="206.1" y1="214.21" x2="207.7" y2="214.21" stroke="#1a1a1a" stroke-width="0.7"/>
<text x="205.8" y="216.51" font-size="6.85" text-anchor="end">1383.0</text>
<line x1="206.1" y1="226.68" x2="207.7" y2="226.68" stroke="#1a1a1a" stroke-width="0.7"/>
<text x="205.8" y="228.98" font-size="6.85" text-anchor="end">1382.4</text>
<line x1="212.1" y1="230.9" x2="212.1" y2="232.3" stroke="#1a1a1a" stroke-width="0.7"/>
<text x="212.1" y="238.7" font-size="6.85" text-anchor="middle">1382.4</text>
<line x1="241.3" y1="230.9" x2="241.3" y2="232.3" stroke="#1a1a1a" stroke-width="0.7"/>
<text x="241.3" y="238.7" font-size="6.85" text-anchor="middle">1383.0</text>
<line x1="270.5" y1="230.9" x2="270.5" y2="232.3" stroke="#1a1a1a" stroke-width="0.7"/>
<text x="270.5" y="238.7" font-size="6.85" text-anchor="middle">1383.6</text>
<line x1="299.7" y1="230.9" x2="299.7" y2="232.3" stroke="#1a1a1a" stroke-width="0.7"/>
<text x="299.7" y="238.7" font-size="6.85" text-anchor="middle">1384.2</text>
<line x1="328.9" y1="230.9" x2="328.9" y2="232.3" stroke="#1a1a1a" stroke-width="0.7"/>
<text x="328.9" y="238.7" font-size="6.85" text-anchor="middle">1384.8</text>
<text x="276.7" y="247.5" font-size="7" text-anchor="middle">Observed /m</text>
<text transform="translate(179.9 198.7) rotate(-90)" font-size="7" text-anchor="middle">Predicted /m</text>
<rect x="219.7" y="214.6" width="2.2" height="2.2" fill="#000"/>
<rect x="220.7" y="217.2" width="2.2" height="2.2" fill="#000"/>
<rect x="223.2" y="218.6" width="2.2" height="2.2" fill="#000"/>
<rect x="226.2" y="214.6" width="2.2" height="2.2" fill="#000"/>
<rect x="229.2" y="214.6" width="2.2" height="2.2" fill="#000"/>
<rect x="232.1" y="213.8" width="2.2" height="2.2" fill="#000"/>
<rect x="233.1" y="215.2" width="2.2" height="2.2" fill="#000"/>
<rect x="235.1" y="207.3" width="2.2" height="2.2" fill="#000"/>
<rect x="235.5" y="211.3" width="2.2" height="2.2" fill="#000"/>
<rect x="236.4" y="216.2" width="2.2" height="2.2" fill="#000"/>
<rect x="238.4" y="208.3" width="2.2" height="2.2" fill="#000"/>
<rect x="239.4" y="210.7" width="2.2" height="2.2" fill="#000"/>
<rect x="241" y="216.6" width="2.2" height="2.2" fill="#000"/>
<rect x="241.4" y="212.7" width="2.2" height="2.2" fill="#000"/>
<rect x="244.9" y="211.9" width="2.2" height="2.2" fill="#000"/>
<rect x="247.9" y="202.8" width="2.2" height="2.2" fill="#000"/>
<rect x="248.9" y="201.4" width="2.2" height="2.2" fill="#000"/>
<rect x="249.7" y="208.3" width="2.2" height="2.2" fill="#000"/>
<rect x="253.2" y="204.8" width="2.2" height="2.2" fill="#000"/>
<rect x="254.2" y="210.7" width="2.2" height="2.2" fill="#000"/>
<rect x="256.7" y="202" width="2.2" height="2.2" fill="#000"/>
<rect x="258.1" y="201.4" width="2.2" height="2.2" fill="#000"/>
<rect x="259.5" y="197.5" width="2.2" height="2.2" fill="#000"/>
<rect x="262.7" y="199.4" width="2.2" height="2.2" fill="#000"/>
<rect x="264" y="208.3" width="2.2" height="2.2" fill="#000"/>
<rect x="267" y="196.5" width="2.2" height="2.2" fill="#000"/>
<rect x="270.5" y="206.3" width="2.2" height="2.2" fill="#000"/>
<rect x="271.9" y="205.4" width="2.2" height="2.2" fill="#000"/>
<rect x="273" y="203" width="2.2" height="2.2" fill="#000"/>
<rect x="274.6" y="205.4" width="2.2" height="2.2" fill="#000"/>
<rect x="282.1" y="198.9" width="2.2" height="2.2" fill="#000"/>
<rect x="283.5" y="204.4" width="2.2" height="2.2" fill="#000"/>
<rect x="291.6" y="202.4" width="2.2" height="2.2" fill="#000"/>
<rect x="292.8" y="198.3" width="2.2" height="2.2" fill="#000"/>
<rect x="293.6" y="189.2" width="2.2" height="2.2" fill="#000"/>
<rect x="295.9" y="204.4" width="2.2" height="2.2" fill="#000"/>
<rect x="299.9" y="199.3" width="2.2" height="2.2" fill="#000"/>
<rect x="319.2" y="195.3" width="2.2" height="2.2" fill="#000"/>
<line x1="220.4" y1="216.3" x2="320.3" y2="194" stroke="#f00" stroke-width="1.1"/>
<text x="210.1" y="179.6" font-size="7" text-anchor="start">y = 0.521x + 662.711</text>
<text x="210.1" y="189.2" font-size="7" text-anchor="start">R<tspan font-size="4.3" dy="-2.7">2</tspan><tspan dy="2.7"> = 0.664</tspan></text>
<text x="29" y="289.9" font-size="6.7" text-anchor="start" style="stroke-width:0.04px">t+1</text>
<line x1="29" y1="293.6" x2="29" y2="352.85" stroke="#1a1a1a" stroke-width="0.9"/>
<line x1="28.55" y1="352.4" x2="160.2" y2="352.4" stroke="#1a1a1a" stroke-width="0.9"/>
<line x1="27.4" y1="301.4" x2="29" y2="301.4" stroke="#1a1a1a" stroke-width="0.7"/>
<text x="27.1" y="303.7" font-size="6.85" text-anchor="end">1300</text>
<line x1="27.4" y1="316.13" x2="29" y2="316.13" stroke="#1a1a1a" stroke-width="0.7"/>
<text x="27.1" y="318.43" font-size="6.85" text-anchor="end">1298</text>
<line x1="27.4" y1="330.87" x2="29" y2="330.87" stroke="#1a1a1a" stroke-width="0.7"/>
<text x="27.1" y="333.17" font-size="6.85" text-anchor="end">1296</text>
<line x1="27.4" y1="345.6" x2="29" y2="345.6" stroke="#1a1a1a" stroke-width="0.7"/>
<text x="27.1" y="347.9" font-size="6.85" text-anchor="end">1294</text>
<line x1="29" y1="352.4" x2="29" y2="353.8" stroke="#1a1a1a" stroke-width="0.7"/>
<text x="29" y="360.3" font-size="6.85" text-anchor="middle">0</text>
<line x1="61.8" y1="352.4" x2="61.8" y2="353.8" stroke="#1a1a1a" stroke-width="0.7"/>
<text x="61.8" y="360.3" font-size="6.85" text-anchor="middle">12</text>
<line x1="94.6" y1="352.4" x2="94.6" y2="353.8" stroke="#1a1a1a" stroke-width="0.7"/>
<text x="94.6" y="360.3" font-size="6.85" text-anchor="middle">24</text>
<line x1="127.4" y1="352.4" x2="127.4" y2="353.8" stroke="#1a1a1a" stroke-width="0.7"/>
<text x="127.4" y="360.3" font-size="6.85" text-anchor="middle">36</text>
<line x1="160.2" y1="352.4" x2="160.2" y2="353.8" stroke="#1a1a1a" stroke-width="0.7"/>
<text x="160.2" y="360.3" font-size="6.85" text-anchor="middle">48</text>
<text x="73.6" y="368.2" font-size="7" text-anchor="start">Time /month</text>
<text transform="translate(7.6 323.5) rotate(-90)" font-size="7" text-anchor="middle">Groundwater Level /m</text>
<polyline points="31.73,305.5 34.47,306.7 37.2,308.5 39.93,306.3 42.67,305.9 45.4,307.3 48.13,307.9 50.87,306.7 53.6,308.2 56.33,310.4 59.07,312.3 61.8,312.4 64.53,309.8 67.27,308.8 70,308.5 72.73,303.7 75.47,303 78.2,305.4 80.93,307.8 83.67,306 86.4,302.5 89.13,305.2 91.87,306.6 94.6,309.8 97.33,308 100.07,307 102.8,308.1 105.53,308.8 108.27,307.7 111,305.7 113.73,307.1 116.47,305.7 119.2,304.5 121.93,332.8 124.67,334.2 127.4,336.1 130.13,332.8 132.87,333.2 135.6,333.5 138.33,332.8 141.07,332.8 143.8,333.2 146.53,336.1" fill="none" stroke="#555" stroke-width="0.45"/>
<polyline points="31.73,307.9 34.47,307.1 37.2,309.4 39.93,308.9 42.67,308.9 45.4,308.5 48.13,308.5 50.87,308.1 53.6,308.9 56.33,310.1 59.07,312 61.8,310.2 64.53,309.1 67.27,308.7 70,309.4 72.73,309.5 75.47,306.3 78.2,305.7 80.93,308.7 83.67,309.8 86.4,304.9 89.13,307.8 91.87,310.7 94.6,308.7 97.33,308.3 100.07,307 102.8,308.1 105.53,309.1 108.27,310 111,308.6 113.73,307.7 116.47,309.1 119.2,306.7 121.93,308.1 124.67,329.9 127.4,346.8 130.13,331.3 132.87,333.2 135.6,336.1 138.33,330.9 141.07,337.1 143.8,335.2 146.53,333.5" fill="none" stroke="#f33" stroke-width="0.45"/>
<rect x="30.63" y="304.4" width="2.2" height="2.2" fill="#000"/>
<rect x="33.37" y="305.6" width="2.2" height="2.2" fill="#000"/>
<rect x="36.1" y="307.4" width="2.2" height="2.2" fill="#000"/>
<rect x="38.83" y="305.2" width="2.2" height="2.2" fill="#000"/>
<rect x="41.57" y="304.8" width="2.2" height="2.2" fill="#000"/>
<rect x="44.3" y="306.2" width="2.2" height="2.2" fill="#000"/>
<rect x="47.03" y="306.8" width="2.2" height="2.2" fill="#000"/>
<rect x="49.77" y="305.6" width="2.2" height="2.2" fill="#000"/>
<rect x="52.5" y="307.1" width="2.2" height="2.2" fill="#000"/>
<rect x="55.23" y="309.3" width="2.2" height="2.2" fill="#000"/>
<rect x="57.97" y="311.2" width="2.2" height="2.2" fill="#000"/>
<rect x="60.7" y="311.3" width="2.2" height="2.2" fill="#000"/>
<rect x="63.43" y="308.7" width="2.2" height="2.2" fill="#000"/>
<rect x="66.17" y="307.7" width="2.2" height="2.2" fill="#000"/>
<rect x="68.9" y="307.4" width="2.2" height="2.2" fill="#000"/>
<rect x="71.63" y="302.6" width="2.2" height="2.2" fill="#000"/>
<rect x="74.37" y="301.9" width="2.2" height="2.2" fill="#000"/>
<rect x="77.1" y="304.3" width="2.2" height="2.2" fill="#000"/>
<rect x="79.83" y="306.7" width="2.2" height="2.2" fill="#000"/>
<rect x="82.57" y="304.9" width="2.2" height="2.2" fill="#000"/>
<rect x="85.3" y="301.4" width="2.2" height="2.2" fill="#000"/>
<rect x="88.03" y="304.1" width="2.2" height="2.2" fill="#000"/>
<rect x="90.77" y="305.5" width="2.2" height="2.2" fill="#000"/>
<rect x="93.5" y="308.7" width="2.2" height="2.2" fill="#000"/>
<rect x="96.23" y="306.9" width="2.2" height="2.2" fill="#000"/>
<rect x="98.97" y="305.9" width="2.2" height="2.2" fill="#000"/>
<rect x="101.7" y="307" width="2.2" height="2.2" fill="#000"/>
<rect x="104.43" y="307.7" width="2.2" height="2.2" fill="#000"/>
<rect x="107.17" y="306.6" width="2.2" height="2.2" fill="#000"/>
<rect x="109.9" y="304.6" width="2.2" height="2.2" fill="#000"/>
<rect x="112.63" y="306" width="2.2" height="2.2" fill="#000"/>
<rect x="115.37" y="304.6" width="2.2" height="2.2" fill="#000"/>
<rect x="118.1" y="303.4" width="2.2" height="2.2" fill="#000"/>
<rect x="120.83" y="331.7" width="2.2" height="2.2" fill="#000"/>
<rect x="123.57" y="333.1" width="2.2" height="2.2" fill="#000"/>
<rect x="126.3" y="335" width="2.2" height="2.2" fill="#000"/>
<rect x="129.03" y="331.7" width="2.2" height="2.2" fill="#000"/>
<rect x="131.77" y="332.1" width="2.2" height="2.2" fill="#000"/>
<rect x="134.5" y="332.4" width="2.2" height="2.2" fill="#000"/>
<rect x="137.23" y="331.7" width="2.2" height="2.2" fill="#000"/>
<rect x="139.97" y="331.7" width="2.2" height="2.2" fill="#000"/>
<rect x="142.7" y="332.1" width="2.2" height="2.2" fill="#000"/>
<rect x="145.43" y="335" width="2.2" height="2.2" fill="#000"/>
<circle cx="31.73" cy="307.9" r="1.3" fill="#f00"/>
<circle cx="34.47" cy="307.1" r="1.3" fill="#f00"/>
<circle cx="37.2" cy="309.4" r="1.3" fill="#f00"/>
<circle cx="39.93" cy="308.9" r="1.3" fill="#f00"/>
<circle cx="42.67" cy="308.9" r="1.3" fill="#f00"/>
<circle cx="45.4" cy="308.5" r="1.3" fill="#f00"/>
<circle cx="48.13" cy="308.5" r="1.3" fill="#f00"/>
<circle cx="50.87" cy="308.1" r="1.3" fill="#f00"/>
<circle cx="53.6" cy="308.9" r="1.3" fill="#f00"/>
<circle cx="56.33" cy="310.1" r="1.3" fill="#f00"/>
<circle cx="59.07" cy="312" r="1.3" fill="#f00"/>
<circle cx="61.8" cy="310.2" r="1.3" fill="#f00"/>
<circle cx="64.53" cy="309.1" r="1.3" fill="#f00"/>
<circle cx="67.27" cy="308.7" r="1.3" fill="#f00"/>
<circle cx="70" cy="309.4" r="1.3" fill="#f00"/>
<circle cx="72.73" cy="309.5" r="1.3" fill="#f00"/>
<circle cx="75.47" cy="306.3" r="1.3" fill="#f00"/>
<circle cx="78.2" cy="305.7" r="1.3" fill="#f00"/>
<circle cx="80.93" cy="308.7" r="1.3" fill="#f00"/>
<circle cx="83.67" cy="309.8" r="1.3" fill="#f00"/>
<circle cx="86.4" cy="304.9" r="1.3" fill="#f00"/>
<circle cx="89.13" cy="307.8" r="1.3" fill="#f00"/>
<circle cx="91.87" cy="310.7" r="1.3" fill="#f00"/>
<circle cx="94.6" cy="308.7" r="1.3" fill="#f00"/>
<circle cx="97.33" cy="308.3" r="1.3" fill="#f00"/>
<circle cx="100.07" cy="307" r="1.3" fill="#f00"/>
<circle cx="102.8" cy="308.1" r="1.3" fill="#f00"/>
<circle cx="105.53" cy="309.1" r="1.3" fill="#f00"/>
<circle cx="108.27" cy="310" r="1.3" fill="#f00"/>
<circle cx="111" cy="308.6" r="1.3" fill="#f00"/>
<circle cx="113.73" cy="307.7" r="1.3" fill="#f00"/>
<circle cx="116.47" cy="309.1" r="1.3" fill="#f00"/>
<circle cx="119.2" cy="306.7" r="1.3" fill="#f00"/>
<circle cx="121.93" cy="308.1" r="1.3" fill="#f00"/>
<circle cx="124.67" cy="329.9" r="1.3" fill="#f00"/>
<circle cx="127.4" cy="346.8" r="1.3" fill="#f00"/>
<circle cx="130.13" cy="331.3" r="1.3" fill="#f00"/>
<circle cx="132.87" cy="333.2" r="1.3" fill="#f00"/>
<circle cx="135.6" cy="336.1" r="1.3" fill="#f00"/>
<circle cx="138.33" cy="330.9" r="1.3" fill="#f00"/>
<circle cx="141.07" cy="337.1" r="1.3" fill="#f00"/>
<circle cx="143.8" cy="335.2" r="1.3" fill="#f00"/>
<circle cx="146.53" cy="333.5" r="1.3" fill="#f00"/>
<line x1="31.5" y1="343.8" x2="46.5" y2="343.8" stroke="#bbb" stroke-width="1.1"/>
<rect x="37.9" y="342.7" width="2.2" height="2.2" fill="#000"/>
<text x="49" y="346.15" font-size="6.95" text-anchor="start">Observed</text>
<line x1="84.8" y1="343.8" x2="99.8" y2="343.8" stroke="#f9a" stroke-width="1.1"/>
<circle cx="92.3" cy="343.8" r="1.3" fill="#f00"/>
<text x="100.7" y="346.15" font-size="6.95" text-anchor="start">Predicted</text>
<text x="29" y="367.8" font-size="6.7" text-anchor="start" style="stroke-width:0.04px">t+2</text>
<line x1="29" y1="371" x2="29" y2="430.55" stroke="#1a1a1a" stroke-width="0.9"/>
<line x1="28.55" y1="430.1" x2="160.2" y2="430.1" stroke="#1a1a1a" stroke-width="0.9"/>
<line x1="27.4" y1="378.3" x2="29" y2="378.3" stroke="#1a1a1a" stroke-width="0.7"/>
<text x="27.1" y="380.6" font-size="6.85" text-anchor="end">1300</text>
<line x1="27.4" y1="393.07" x2="29" y2="393.07" stroke="#1a1a1a" stroke-width="0.7"/>
<text x="27.1" y="395.37" font-size="6.85" text-anchor="end">1298</text>
<line x1="27.4" y1="407.83" x2="29" y2="407.83" stroke="#1a1a1a" stroke-width="0.7"/>
<text x="27.1" y="410.13" font-size="6.85" text-anchor="end">1296</text>
<line x1="27.4" y1="422.6" x2="29" y2="422.6" stroke="#1a1a1a" stroke-width="0.7"/>
<text x="27.1" y="424.9" font-size="6.85" text-anchor="end">1294</text>
<line x1="29" y1="430.1" x2="29" y2="431.5" stroke="#1a1a1a" stroke-width="0.7"/>
<text x="29" y="438.7" font-size="6.85" text-anchor="middle">0</text>
<line x1="61.8" y1="430.1" x2="61.8" y2="431.5" stroke="#1a1a1a" stroke-width="0.7"/>
<text x="61.8" y="438.7" font-size="6.85" text-anchor="middle">12</text>
<line x1="94.6" y1="430.1" x2="94.6" y2="431.5" stroke="#1a1a1a" stroke-width="0.7"/>
<text x="94.6" y="438.7" font-size="6.85" text-anchor="middle">24</text>
<line x1="127.4" y1="430.1" x2="127.4" y2="431.5" stroke="#1a1a1a" stroke-width="0.7"/>
<text x="127.4" y="438.7" font-size="6.85" text-anchor="middle">36</text>
<line x1="160.2" y1="430.1" x2="160.2" y2="431.5" stroke="#1a1a1a" stroke-width="0.7"/>
<text x="160.2" y="438.7" font-size="6.85" text-anchor="middle">48</text>
<text x="74.5" y="448.3" font-size="7" text-anchor="start">Time /month</text>
<text transform="translate(7.6 403.2) rotate(-90)" font-size="7" text-anchor="middle">Groundwater Level /m</text>
<polyline points="31.73,384.5 34.47,385.7 37.2,384.2 39.93,383.8 42.67,384.8 45.4,385.7 48.13,386.2 50.87,385.7 53.6,388.6 56.33,390 59.07,389.6 61.8,388.1 64.53,386.7 67.27,385.2 70,380.9 72.73,380.9 75.47,382.8 78.2,385 80.93,383.8 83.67,380.4 86.4,382.8 89.13,384.8 91.87,387.7 94.6,385.5 97.33,385.2 100.07,384.8 102.8,386 105.53,384.8 108.27,383.3 111,385 113.73,383.8 116.47,382.3 119.2,410.1 121.93,412.3 124.67,413.2 127.4,411.7 130.13,410.3 132.87,410.9 135.6,411.3 138.33,410.3 141.07,410.9 143.8,413.8 146.53,411.3" fill="none" stroke="#555" stroke-width="0.45"/>
<polyline points="31.73,384.2 34.47,387.1 37.2,387.7 39.93,387.1 42.67,388.1 45.4,387.1 48.13,387.1 50.87,387.7 53.6,388.6 56.33,390.6 59.07,387.1 61.8,384.8 64.53,384.2 67.27,385.2 70,387.7 72.73,388.1 75.47,387.7 78.2,385.9 80.93,385.2 83.67,385.7 86.4,387.1 89.13,390 91.87,390.3 94.6,385.7 97.33,385.7 100.07,386.2 102.8,387.7 105.53,388.6 108.27,388.8 111,386.7 113.73,379 116.47,385.2 119.2,390 121.93,390 124.67,397.2 127.4,397.2 130.13,409.4 132.87,411.7 135.6,409.9 138.33,412.3 141.07,407 143.8,408.4 146.53,403.6" fill="none" stroke="#f33" stroke-width="0.45"/>
<rect x="30.63" y="383.4" width="2.2" height="2.2" fill="#000"/>
<rect x="33.37" y="384.6" width="2.2" height="2.2" fill="#000"/>
<rect x="36.1" y="383.1" width="2.2" height="2.2" fill="#000"/>
<rect x="38.83" y="382.7" width="2.2" height="2.2" fill="#000"/>
<rect x="41.57" y="383.7" width="2.2" height="2.2" fill="#000"/>
<rect x="44.3" y="384.6" width="2.2" height="2.2" fill="#000"/>
<rect x="47.03" y="385.1" width="2.2" height="2.2" fill="#000"/>
<rect x="49.77" y="384.6" width="2.2" height="2.2" fill="#000"/>
<rect x="52.5" y="387.5" width="2.2" height="2.2" fill="#000"/>
<rect x="55.23" y="388.9" width="2.2" height="2.2" fill="#000"/>
<rect x="57.97" y="388.5" width="2.2" height="2.2" fill="#000"/>
<rect x="60.7" y="387" width="2.2" height="2.2" fill="#000"/>
<rect x="63.43" y="385.6" width="2.2" height="2.2" fill="#000"/>
<rect x="66.17" y="384.1" width="2.2" height="2.2" fill="#000"/>
<rect x="68.9" y="379.8" width="2.2" height="2.2" fill="#000"/>
<rect x="71.63" y="379.8" width="2.2" height="2.2" fill="#000"/>
<rect x="74.37" y="381.7" width="2.2" height="2.2" fill="#000"/>
<rect x="77.1" y="383.9" width="2.2" height="2.2" fill="#000"/>
<rect x="79.83" y="382.7" width="2.2" height="2.2" fill="#000"/>
<rect x="82.57" y="379.3" width="2.2" height="2.2" fill="#000"/>
<rect x="85.3" y="381.7" width="2.2" height="2.2" fill="#000"/>
<rect x="88.03" y="383.7" width="2.2" height="2.2" fill="#000"/>
<rect x="90.77" y="386.6" width="2.2" height="2.2" fill="#000"/>
<rect x="93.5" y="384.4" width="2.2" height="2.2" fill="#000"/>
<rect x="96.23" y="384.1" width="2.2" height="2.2" fill="#000"/>
<rect x="98.97" y="383.7" width="2.2" height="2.2" fill="#000"/>
<rect x="101.7" y="384.9" width="2.2" height="2.2" fill="#000"/>
<rect x="104.43" y="383.7" width="2.2" height="2.2" fill="#000"/>
<rect x="107.17" y="382.2" width="2.2" height="2.2" fill="#000"/>
<rect x="109.9" y="383.9" width="2.2" height="2.2" fill="#000"/>
<rect x="112.63" y="382.7" width="2.2" height="2.2" fill="#000"/>
<rect x="115.37" y="381.2" width="2.2" height="2.2" fill="#000"/>
<rect x="118.1" y="409" width="2.2" height="2.2" fill="#000"/>
<rect x="120.83" y="411.2" width="2.2" height="2.2" fill="#000"/>
<rect x="123.57" y="412.1" width="2.2" height="2.2" fill="#000"/>
<rect x="126.3" y="410.6" width="2.2" height="2.2" fill="#000"/>
<rect x="129.03" y="409.2" width="2.2" height="2.2" fill="#000"/>
<rect x="131.77" y="409.8" width="2.2" height="2.2" fill="#000"/>
<rect x="134.5" y="410.2" width="2.2" height="2.2" fill="#000"/>
<rect x="137.23" y="409.2" width="2.2" height="2.2" fill="#000"/>
<rect x="139.97" y="409.8" width="2.2" height="2.2" fill="#000"/>
<rect x="142.7" y="412.7" width="2.2" height="2.2" fill="#000"/>
<rect x="145.43" y="410.2" width="2.2" height="2.2" fill="#000"/>
<circle cx="31.73" cy="384.2" r="1.3" fill="#f00"/>
<circle cx="34.47" cy="387.1" r="1.3" fill="#f00"/>
<circle cx="37.2" cy="387.7" r="1.3" fill="#f00"/>
<circle cx="39.93" cy="387.1" r="1.3" fill="#f00"/>
<circle cx="42.67" cy="388.1" r="1.3" fill="#f00"/>
<circle cx="45.4" cy="387.1" r="1.3" fill="#f00"/>
<circle cx="48.13" cy="387.1" r="1.3" fill="#f00"/>
<circle cx="50.87" cy="387.7" r="1.3" fill="#f00"/>
<circle cx="53.6" cy="388.6" r="1.3" fill="#f00"/>
<circle cx="56.33" cy="390.6" r="1.3" fill="#f00"/>
<circle cx="59.07" cy="387.1" r="1.3" fill="#f00"/>
<circle cx="61.8" cy="384.8" r="1.3" fill="#f00"/>
<circle cx="64.53" cy="384.2" r="1.3" fill="#f00"/>
<circle cx="67.27" cy="385.2" r="1.3" fill="#f00"/>
<circle cx="70" cy="387.7" r="1.3" fill="#f00"/>
<circle cx="72.73" cy="388.1" r="1.3" fill="#f00"/>
<circle cx="75.47" cy="387.7" r="1.3" fill="#f00"/>
<circle cx="78.2" cy="385.9" r="1.3" fill="#f00"/>
<circle cx="80.93" cy="385.2" r="1.3" fill="#f00"/>
<circle cx="83.67" cy="385.7" r="1.3" fill="#f00"/>
<circle cx="86.4" cy="387.1" r="1.3" fill="#f00"/>
<circle cx="89.13" cy="390" r="1.3" fill="#f00"/>
<circle cx="91.87" cy="390.3" r="1.3" fill="#f00"/>
<circle cx="94.6" cy="385.7" r="1.3" fill="#f00"/>
<circle cx="97.33" cy="385.7" r="1.3" fill="#f00"/>
<circle cx="100.07" cy="386.2" r="1.3" fill="#f00"/>
<circle cx="102.8" cy="387.7" r="1.3" fill="#f00"/>
<circle cx="105.53" cy="388.6" r="1.3" fill="#f00"/>
<circle cx="108.27" cy="388.8" r="1.3" fill="#f00"/>
<circle cx="111" cy="386.7" r="1.3" fill="#f00"/>
<circle cx="113.73" cy="379" r="1.3" fill="#f00"/>
<circle cx="116.47" cy="385.2" r="1.3" fill="#f00"/>
<circle cx="119.2" cy="390" r="1.3" fill="#f00"/>
<circle cx="121.93" cy="390" r="1.3" fill="#f00"/>
<circle cx="124.67" cy="397.2" r="1.3" fill="#f00"/>
<circle cx="127.4" cy="397.2" r="1.3" fill="#f00"/>
<circle cx="130.13" cy="409.4" r="1.3" fill="#f00"/>
<circle cx="132.87" cy="411.7" r="1.3" fill="#f00"/>
<circle cx="135.6" cy="409.9" r="1.3" fill="#f00"/>
<circle cx="138.33" cy="412.3" r="1.3" fill="#f00"/>
<circle cx="141.07" cy="407" r="1.3" fill="#f00"/>
<circle cx="143.8" cy="408.4" r="1.3" fill="#f00"/>
<circle cx="146.53" cy="403.6" r="1.3" fill="#f00"/>
<line x1="31.5" y1="422.3" x2="46.5" y2="422.3" stroke="#bbb" stroke-width="1.1"/>
<rect x="37.9" y="421.2" width="2.2" height="2.2" fill="#000"/>
<text x="49" y="424.65" font-size="6.95" text-anchor="start">Observed</text>
<line x1="84.8" y1="422.3" x2="99.8" y2="422.3" stroke="#f9a" stroke-width="1.1"/>
<circle cx="92.3" cy="422.3" r="1.3" fill="#f00"/>
<text x="100.7" y="424.65" font-size="6.95" text-anchor="start">Predicted</text>
<text x="29" y="447.9" font-size="6.7" text-anchor="start" style="stroke-width:0.04px">t+3</text>
<line x1="29" y1="452.5" x2="29" y2="510.65" stroke="#1a1a1a" stroke-width="0.9"/>
<line x1="28.55" y1="510.2" x2="160.2" y2="510.2" stroke="#1a1a1a" stroke-width="0.9"/>
<line x1="27.4" y1="458.7" x2="29" y2="458.7" stroke="#1a1a1a" stroke-width="0.7"/>
<text x="27.1" y="461" font-size="6.85" text-anchor="end">1300</text>
<line x1="27.4" y1="473.6" x2="29" y2="473.6" stroke="#1a1a1a" stroke-width="0.7"/>
<text x="27.1" y="475.9" font-size="6.85" text-anchor="end">1298</text>
<line x1="27.4" y1="488.5" x2="29" y2="488.5" stroke="#1a1a1a" stroke-width="0.7"/>
<text x="27.1" y="490.8" font-size="6.85" text-anchor="end">1296</text>
<line x1="27.4" y1="503.4" x2="29" y2="503.4" stroke="#1a1a1a" stroke-width="0.7"/>
<text x="27.1" y="505.7" font-size="6.85" text-anchor="end">1294</text>
<line x1="29" y1="510.2" x2="29" y2="511.6" stroke="#1a1a1a" stroke-width="0.7"/>
<text x="29" y="518.3" font-size="6.85" text-anchor="middle">0</text>
<line x1="61.8" y1="510.2" x2="61.8" y2="511.6" stroke="#1a1a1a" stroke-width="0.7"/>
<text x="61.8" y="518.3" font-size="6.85" text-anchor="middle">12</text>
<line x1="94.6" y1="510.2" x2="94.6" y2="511.6" stroke="#1a1a1a" stroke-width="0.7"/>
<text x="94.6" y="518.3" font-size="6.85" text-anchor="middle">24</text>
<line x1="127.4" y1="510.2" x2="127.4" y2="511.6" stroke="#1a1a1a" stroke-width="0.7"/>
<text x="127.4" y="518.3" font-size="6.85" text-anchor="middle">36</text>
<line x1="160.2" y1="510.2" x2="160.2" y2="511.6" stroke="#1a1a1a" stroke-width="0.7"/>
<text x="160.2" y="518.3" font-size="6.85" text-anchor="middle">48</text>
<text x="76.5" y="527" font-size="7" text-anchor="start">Time /month</text>
<text transform="translate(7.6 482.9) rotate(-90)" font-size="7" text-anchor="middle">Groundwater Level /m</text>
<polyline points="31.73,466.2 34.47,464.2 37.2,463.8 39.93,464.8 42.67,465.7 45.4,466.2 48.13,465.9 50.87,468.8 53.6,470.6 56.33,470.3 59.07,468.6 61.8,467.1 64.53,466.7 67.27,461.6 70,460.9 72.73,463 75.47,465.7 78.2,463.8 80.93,460.9 83.67,463 86.4,464.8 89.13,466.5 91.87,466.2 94.6,464.5 97.33,464.8 100.07,467.1 102.8,465.2 105.53,463.8 108.27,465.7 111,463.8 113.73,462.3 116.47,490.6 119.2,492.8 121.93,493.5 124.67,492.3 127.4,491.3 130.13,490.9 132.87,492 135.6,490.3 138.33,491.3 141.07,493.5 143.8,491.3 146.53,490.9" fill="none" stroke="#555" stroke-width="0.45"/>
<polyline points="31.73,466.7 34.47,467.7 37.2,468.6 39.93,470 42.67,468.8 45.4,467.1 48.13,467.1 50.87,469.1 53.6,471.4 56.33,468.6 59.07,464.8 61.8,464.5 64.53,466.7 67.27,467.7 70,469.6 72.73,468.6 75.47,467.7 78.2,464.5 80.93,468.1 83.67,471.4 86.4,470.6 89.13,467.7 91.87,464.2 94.6,462.8 97.33,463.3 100.07,468.1 102.8,468.8 105.53,469.6 108.27,468.6 111,465.9 113.73,464.5 116.47,468.6 119.2,472.5 121.93,468.8 124.67,472.9 127.4,485.1 130.13,493.5 132.87,493.5 135.6,492.8 138.33,491.3 141.07,492.3 143.8,490.9 146.53,488.8" fill="none" stroke="#f33" stroke-width="0.45"/>
<rect x="30.63" y="465.1" width="2.2" height="2.2" fill="#000"/>
<rect x="33.37" y="463.1" width="2.2" height="2.2" fill="#000"/>
<rect x="36.1" y="462.7" width="2.2" height="2.2" fill="#000"/>
<rect x="38.83" y="463.7" width="2.2" height="2.2" fill="#000"/>
<rect x="41.57" y="464.6" width="2.2" height="2.2" fill="#000"/>
<rect x="44.3" y="465.1" width="2.2" height="2.2" fill="#000"/>
<rect x="47.03" y="464.8" width="2.2" height="2.2" fill="#000"/>
<rect x="49.77" y="467.7" width="2.2" height="2.2" fill="#000"/>
<rect x="52.5" y="469.5" width="2.2" height="2.2" fill="#000"/>
<rect x="55.23" y="469.2" width="2.2" height="2.2" fill="#000"/>
<rect x="57.97" y="467.5" width="2.2" height="2.2" fill="#000"/>
<rect x="60.7" y="466" width="2.2" height="2.2" fill="#000"/>
<rect x="63.43" y="465.6" width="2.2" height="2.2" fill="#000"/>
<rect x="66.17" y="460.5" width="2.2" height="2.2" fill="#000"/>
<rect x="68.9" y="459.8" width="2.2" height="2.2" fill="#000"/>
<rect x="71.63" y="461.9" width="2.2" height="2.2" fill="#000"/>
<rect x="74.37" y="464.6" width="2.2" height="2.2" fill="#000"/>
<rect x="77.1" y="462.7" width="2.2" height="2.2" fill="#000"/>
<rect x="79.83" y="459.8" width="2.2" height="2.2" fill="#000"/>
<rect x="82.57" y="461.9" width="2.2" height="2.2" fill="#000"/>
<rect x="85.3" y="463.7" width="2.2" height="2.2" fill="#000"/>
<rect x="88.03" y="465.4" width="2.2" height="2.2" fill="#000"/>
<rect x="90.77" y="465.1" width="2.2" height="2.2" fill="#000"/>
<rect x="93.5" y="463.4" width="2.2" height="2.2" fill="#000"/>
<rect x="96.23" y="463.7" width="2.2" height="2.2" fill="#000"/>
<rect x="98.97" y="466" width="2.2" height="2.2" fill="#000"/>
<rect x="101.7" y="464.1" width="2.2" height="2.2" fill="#000"/>
<rect x="104.43" y="462.7" width="2.2" height="2.2" fill="#000"/>
<rect x="107.17" y="464.6" width="2.2" height="2.2" fill="#000"/>
<rect x="109.9" y="462.7" width="2.2" height="2.2" fill="#000"/>
<rect x="112.63" y="461.2" width="2.2" height="2.2" fill="#000"/>
<rect x="115.37" y="489.5" width="2.2" height="2.2" fill="#000"/>
<rect x="118.1" y="491.7" width="2.2" height="2.2" fill="#000"/>
<rect x="120.83" y="492.4" width="2.2" height="2.2" fill="#000"/>
<rect x="123.57" y="491.2" width="2.2" height="2.2" fill="#000"/>
<rect x="126.3" y="490.2" width="2.2" height="2.2" fill="#000"/>
<rect x="129.03" y="489.8" width="2.2" height="2.2" fill="#000"/>
<rect x="131.77" y="490.9" width="2.2" height="2.2" fill="#000"/>
<rect x="134.5" y="489.2" width="2.2" height="2.2" fill="#000"/>
<rect x="137.23" y="490.2" width="2.2" height="2.2" fill="#000"/>
<rect x="139.97" y="492.4" width="2.2" height="2.2" fill="#000"/>
<rect x="142.7" y="490.2" width="2.2" height="2.2" fill="#000"/>
<rect x="145.43" y="489.8" width="2.2" height="2.2" fill="#000"/>
<circle cx="31.73" cy="466.7" r="1.3" fill="#f00"/>
<circle cx="34.47" cy="467.7" r="1.3" fill="#f00"/>
<circle cx="37.2" cy="468.6" r="1.3" fill="#f00"/>
<circle cx="39.93" cy="470" r="1.3" fill="#f00"/>
<circle cx="42.67" cy="468.8" r="1.3" fill="#f00"/>
<circle cx="45.4" cy="467.1" r="1.3" fill="#f00"/>
<circle cx="48.13" cy="467.1" r="1.3" fill="#f00"/>
<circle cx="50.87" cy="469.1" r="1.3" fill="#f00"/>
<circle cx="53.6" cy="471.4" r="1.3" fill="#f00"/>
<circle cx="56.33" cy="468.6" r="1.3" fill="#f00"/>
<circle cx="59.07" cy="464.8" r="1.3" fill="#f00"/>
<circle cx="61.8" cy="464.5" r="1.3" fill="#f00"/>
<circle cx="64.53" cy="466.7" r="1.3" fill="#f00"/>
<circle cx="67.27" cy="467.7" r="1.3" fill="#f00"/>
<circle cx="70" cy="469.6" r="1.3" fill="#f00"/>
<circle cx="72.73" cy="468.6" r="1.3" fill="#f00"/>
<circle cx="75.47" cy="467.7" r="1.3" fill="#f00"/>
<circle cx="78.2" cy="464.5" r="1.3" fill="#f00"/>
<circle cx="80.93" cy="468.1" r="1.3" fill="#f00"/>
<circle cx="83.67" cy="471.4" r="1.3" fill="#f00"/>
<circle cx="86.4" cy="470.6" r="1.3" fill="#f00"/>
<circle cx="89.13" cy="467.7" r="1.3" fill="#f00"/>
<circle cx="91.87" cy="464.2" r="1.3" fill="#f00"/>
<circle cx="94.6" cy="462.8" r="1.3" fill="#f00"/>
<circle cx="97.33" cy="463.3" r="1.3" fill="#f00"/>
<circle cx="100.07" cy="468.1" r="1.3" fill="#f00"/>
<circle cx="102.8" cy="468.8" r="1.3" fill="#f00"/>
<circle cx="105.53" cy="469.6" r="1.3" fill="#f00"/>
<circle cx="108.27" cy="468.6" r="1.3" fill="#f00"/>
<circle cx="111" cy="465.9" r="1.3" fill="#f00"/>
<circle cx="113.73" cy="464.5" r="1.3" fill="#f00"/>
<circle cx="116.47" cy="468.6" r="1.3" fill="#f00"/>
<circle cx="119.2" cy="472.5" r="1.3" fill="#f00"/>
<circle cx="121.93" cy="468.8" r="1.3" fill="#f00"/>
<circle cx="124.67" cy="472.9" r="1.3" fill="#f00"/>
<circle cx="127.4" cy="485.1" r="1.3" fill="#f00"/>
<circle cx="130.13" cy="493.5" r="1.3" fill="#f00"/>
<circle cx="132.87" cy="493.5" r="1.3" fill="#f00"/>
<circle cx="135.6" cy="492.8" r="1.3" fill="#f00"/>
<circle cx="138.33" cy="491.3" r="1.3" fill="#f00"/>
<circle cx="141.07" cy="492.3" r="1.3" fill="#f00"/>
<circle cx="143.8" cy="490.9" r="1.3" fill="#f00"/>
<circle cx="146.53" cy="488.8" r="1.3" fill="#f00"/>
<line x1="31.5" y1="504.3" x2="46.5" y2="504.3" stroke="#bbb" stroke-width="1.1"/>
<rect x="37.9" y="503.2" width="2.2" height="2.2" fill="#000"/>
<text x="49" y="506.65" font-size="6.95" text-anchor="start">Observed</text>
<line x1="84.8" y1="504.3" x2="99.8" y2="504.3" stroke="#f9a" stroke-width="1.1"/>
<circle cx="92.3" cy="504.3" r="1.3" fill="#f00"/>
<text x="100.7" y="506.65" font-size="6.95" text-anchor="start">Predicted</text>
<line x1="207.6" y1="293.7" x2="207.6" y2="352.65" stroke="#1a1a1a" stroke-width="0.9"/>
<line x1="207.15" y1="352.2" x2="339.3" y2="352.2" stroke="#1a1a1a" stroke-width="0.9"/>
<line x1="206" y1="300.6" x2="207.6" y2="300.6" stroke="#1a1a1a" stroke-width="0.7"/>
<text x="205.7" y="302.9" font-size="6.85" text-anchor="end">1300</text>
<line x1="206" y1="317.17" x2="207.6" y2="317.17" stroke="#1a1a1a" stroke-width="0.7"/>
<text x="205.7" y="319.47" font-size="6.85" text-anchor="end">1298</text>
<line x1="206" y1="333.73" x2="207.6" y2="333.73" stroke="#1a1a1a" stroke-width="0.7"/>
<text x="205.7" y="336.03" font-size="6.85" text-anchor="end">1296</text>
<line x1="206" y1="350.3" x2="207.6" y2="350.3" stroke="#1a1a1a" stroke-width="0.7"/>
<text x="205.7" y="352.6" font-size="6.85" text-anchor="end">1294</text>
<line x1="218.5" y1="352.2" x2="218.5" y2="353.6" stroke="#1a1a1a" stroke-width="0.7"/>
<text x="218.5" y="360.1" font-size="6.85" text-anchor="middle">1295</text>
<line x1="240.2" y1="352.2" x2="240.2" y2="353.6" stroke="#1a1a1a" stroke-width="0.7"/>
<text x="240.2" y="360.1" font-size="6.85" text-anchor="middle">1296</text>
<line x1="261.9" y1="352.2" x2="261.9" y2="353.6" stroke="#1a1a1a" stroke-width="0.7"/>
<text x="261.9" y="360.1" font-size="6.85" text-anchor="middle">1297</text>
<line x1="283.6" y1="352.2" x2="283.6" y2="353.6" stroke="#1a1a1a" stroke-width="0.7"/>
<text x="283.6" y="360.1" font-size="6.85" text-anchor="middle">1298</text>
<line x1="305.3" y1="352.2" x2="305.3" y2="353.6" stroke="#1a1a1a" stroke-width="0.7"/>
<text x="305.3" y="360.1" font-size="6.85" text-anchor="middle">1299</text>
<line x1="327" y1="352.2" x2="327" y2="353.6" stroke="#1a1a1a" stroke-width="0.7"/>
<text x="327" y="360.1" font-size="6.85" text-anchor="middle">1300</text>
<text x="273" y="368.7" font-size="7" text-anchor="middle">Observed /m</text>
<text transform="translate(186.3 326.3) rotate(-90)" font-size="7" text-anchor="middle">Predicted /m</text>
<rect x="222.5" y="335.9" width="2.2" height="2.2" fill="#000"/>
<rect x="226.6" y="332.5" width="2.2" height="2.2" fill="#000"/>
<rect x="228.9" y="333.7" width="2.2" height="2.2" fill="#000"/>
<rect x="230.3" y="333.9" width="2.2" height="2.2" fill="#000"/>
<rect x="229.8" y="333.5" width="2.2" height="2.2" fill="#000"/>
<rect x="230.8" y="336.3" width="2.2" height="2.2" fill="#000"/>
<rect x="231.9" y="339.4" width="2.2" height="2.2" fill="#000"/>
<rect x="233.6" y="340.8" width="2.2" height="2.2" fill="#000"/>
<rect x="233.4" y="307.2" width="2.2" height="2.2" fill="#000"/>
<rect x="293.1" y="310.3" width="2.2" height="2.2" fill="#000"/>
<rect x="293.6" y="309.2" width="2.2" height="2.2" fill="#000"/>
<rect x="298.1" y="308.4" width="2.2" height="2.2" fill="#000"/>
<rect x="299.1" y="307.5" width="2.2" height="2.2" fill="#000"/>
<rect x="300.6" y="307.3" width="2.2" height="2.2" fill="#000"/>
<rect x="302.5" y="307.5" width="2.2" height="2.2" fill="#000"/>
<rect x="304.3" y="306.8" width="2.2" height="2.2" fill="#000"/>
<rect x="305.6" y="306.3" width="2.2" height="2.2" fill="#000"/>
<rect x="306.6" y="305.8" width="2.2" height="2.2" fill="#000"/>
<rect x="307.5" y="306.5" width="2.2" height="2.2" fill="#000"/>
<rect x="308.2" y="307.3" width="2.2" height="2.2" fill="#000"/>
<rect x="308.7" y="309.2" width="2.2" height="2.2" fill="#000"/>
<rect x="309.3" y="310.3" width="2.2" height="2.2" fill="#000"/>
<rect x="310.3" y="307.9" width="2.2" height="2.2" fill="#000"/>
<rect x="311.3" y="307.3" width="2.2" height="2.2" fill="#000"/>
<rect x="312.1" y="309.2" width="2.2" height="2.2" fill="#000"/>
<rect x="313.1" y="308.6" width="2.2" height="2.2" fill="#000"/>
<rect x="313.9" y="307.3" width="2.2" height="2.2" fill="#000"/>
<rect x="315" y="304.7" width="2.2" height="2.2" fill="#000"/>
<rect x="315.8" y="306.8" width="2.2" height="2.2" fill="#000"/>
<rect x="316.6" y="305.8" width="2.2" height="2.2" fill="#000"/>
<rect x="317.3" y="305.3" width="2.2" height="2.2" fill="#000"/>
<rect x="319.7" y="308.2" width="2.2" height="2.2" fill="#000"/>
<rect x="320.2" y="306.8" width="2.2" height="2.2" fill="#000"/>
<rect x="321.3" y="303.4" width="2.2" height="2.2" fill="#000"/>
<rect x="321.8" y="305.3" width="2.2" height="2.2" fill="#000"/>
<line x1="223.6" y1="338.4" x2="322.8" y2="304.6" stroke="#f00" stroke-width="1.1"/>
<text x="210" y="295.6" font-size="7" text-anchor="start">y = 0.891x + 141.789</text>
<text x="210" y="305.6" font-size="7" text-anchor="start">R<tspan font-size="4.3" dy="-2.7">2</tspan><tspan dy="2.7"> = 0.834</tspan></text>
<line x1="207.6" y1="370.6" x2="207.6" y2="429.35" stroke="#1a1a1a" stroke-width="0.9"/>
<line x1="207.15" y1="428.9" x2="339.3" y2="428.9" stroke="#1a1a1a" stroke-width="0.9"/>
<line x1="206" y1="377.4" x2="207.6" y2="377.4" stroke="#1a1a1a" stroke-width="0.7"/>
<text x="205.7" y="379.7" font-size="6.85" text-anchor="end">1300</text>
<line x1="206" y1="393.83" x2="207.6" y2="393.83" stroke="#1a1a1a" stroke-width="0.7"/>
<text x="205.7" y="396.13" font-size="6.85" text-anchor="end">1298</text>
<line x1="206" y1="410.27" x2="207.6" y2="410.27" stroke="#1a1a1a" stroke-width="0.7"/>
<text x="205.7" y="412.57" font-size="6.85" text-anchor="end">1296</text>
<line x1="206" y1="426.7" x2="207.6" y2="426.7" stroke="#1a1a1a" stroke-width="0.7"/>
<text x="205.7" y="429" font-size="6.85" text-anchor="end">1294</text>
<line x1="218.5" y1="428.9" x2="218.5" y2="430.3" stroke="#1a1a1a" stroke-width="0.7"/>
<text x="218.5" y="437" font-size="6.85" text-anchor="middle">1295</text>
<line x1="240.2" y1="428.9" x2="240.2" y2="430.3" stroke="#1a1a1a" stroke-width="0.7"/>
<text x="240.2" y="437" font-size="6.85" text-anchor="middle">1296</text>
<line x1="261.9" y1="428.9" x2="261.9" y2="430.3" stroke="#1a1a1a" stroke-width="0.7"/>
<text x="261.9" y="437" font-size="6.85" text-anchor="middle">1297</text>
<line x1="283.6" y1="428.9" x2="283.6" y2="430.3" stroke="#1a1a1a" stroke-width="0.7"/>
<text x="283.6" y="437" font-size="6.85" text-anchor="middle">1298</text>
<line x1="305.3" y1="428.9" x2="305.3" y2="430.3" stroke="#1a1a1a" stroke-width="0.7"/>
<text x="305.3" y="437" font-size="6.85" text-anchor="middle">1299</text>
<line x1="327" y1="428.9" x2="327" y2="430.3" stroke="#1a1a1a" stroke-width="0.7"/>
<text x="327" y="437" font-size="6.85" text-anchor="middle">1300</text>
<text x="274" y="447.1" font-size="7" text-anchor="middle">Observed /m</text>
<text transform="translate(186.3 398.5) rotate(-90)" font-size="7" text-anchor="middle">Predicted /m</text>
<rect x="226.6" y="388.9" width="2.2" height="2.2" fill="#000"/>
<rect x="233.5" y="388.9" width="2.2" height="2.2" fill="#000"/>
<rect x="223.9" y="397.8" width="2.2" height="2.2" fill="#000"/>
<rect x="229.3" y="397.5" width="2.2" height="2.2" fill="#000"/>
<rect x="229.8" y="404.8" width="2.2" height="2.2" fill="#000"/>
<rect x="222.8" y="409.8" width="2.2" height="2.2" fill="#000"/>
<rect x="232.1" y="408.6" width="2.2" height="2.2" fill="#000"/>
<rect x="230.7" y="411.6" width="2.2" height="2.2" fill="#000"/>
<rect x="232.3" y="413.8" width="2.2" height="2.2" fill="#000"/>
<rect x="233.9" y="414.4" width="2.2" height="2.2" fill="#000"/>
<rect x="293.6" y="385.2" width="2.2" height="2.2" fill="#000"/>
<rect x="293.3" y="389.1" width="2.2" height="2.2" fill="#000"/>
<rect x="299.1" y="383.9" width="2.2" height="2.2" fill="#000"/>
<rect x="299.5" y="387.5" width="2.2" height="2.2" fill="#000"/>
<rect x="303.5" y="382.8" width="2.2" height="2.2" fill="#000"/>
<rect x="304.6" y="384.4" width="2.2" height="2.2" fill="#000"/>
<rect x="305.4" y="385.9" width="2.2" height="2.2" fill="#000"/>
<rect x="306.4" y="384.2" width="2.2" height="2.2" fill="#000"/>
<rect x="307.2" y="382.5" width="2.2" height="2.2" fill="#000"/>
<rect x="307.7" y="386.3" width="2.2" height="2.2" fill="#000"/>
<rect x="308.2" y="388" width="2.2" height="2.2" fill="#000"/>
<rect x="308.7" y="384.2" width="2.2" height="2.2" fill="#000"/>
<rect x="309.6" y="382.8" width="2.2" height="2.2" fill="#000"/>
<rect x="310.8" y="386.5" width="2.2" height="2.2" fill="#000"/>
<rect x="311.7" y="384.6" width="2.2" height="2.2" fill="#000"/>
<rect x="312.9" y="376.9" width="2.2" height="2.2" fill="#000"/>
<rect x="313.4" y="383.3" width="2.2" height="2.2" fill="#000"/>
<rect x="314" y="386.3" width="2.2" height="2.2" fill="#000"/>
<rect x="315.2" y="384.4" width="2.2" height="2.2" fill="#000"/>
<rect x="316.6" y="386.3" width="2.2" height="2.2" fill="#000"/>
<rect x="318.6" y="385.2" width="2.2" height="2.2" fill="#000"/>
<rect x="320" y="384.2" width="2.2" height="2.2" fill="#000"/>
<rect x="321.3" y="386.5" width="2.2" height="2.2" fill="#000"/>
<rect x="321.8" y="384.9" width="2.2" height="2.2" fill="#000"/>
<line x1="223.9" y1="406.7" x2="323.1" y2="383.5" stroke="#f00" stroke-width="1.1"/>
<text x="210" y="377" font-size="7" text-anchor="start">y = 0.608x + 508.429</text>
<text x="210" y="386.3" font-size="7" text-anchor="start">R<tspan font-size="4.3" dy="-2.7">2</tspan><tspan dy="2.7"> = 0.711</tspan></text>
<line x1="207.6" y1="452.2" x2="207.6" y2="510.55" stroke="#1a1a1a" stroke-width="0.9"/>
<line x1="207.15" y1="510.1" x2="339.3" y2="510.1" stroke="#1a1a1a" stroke-width="0.9"/>
<line x1="206" y1="458.6" x2="207.6" y2="458.6" stroke="#1a1a1a" stroke-width="0.7"/>
<text x="205.7" y="460.9" font-size="6.85" text-anchor="end">1300</text>
<line x1="206" y1="475.3" x2="207.6" y2="475.3" stroke="#1a1a1a" stroke-width="0.7"/>
<text x="205.7" y="477.6" font-size="6.85" text-anchor="end">1298</text>
<line x1="206" y1="492" x2="207.6" y2="492" stroke="#1a1a1a" stroke-width="0.7"/>
<text x="205.7" y="494.3" font-size="6.85" text-anchor="end">1296</text>
<line x1="206" y1="508.7" x2="207.6" y2="508.7" stroke="#1a1a1a" stroke-width="0.7"/>
<text x="205.7" y="511" font-size="6.85" text-anchor="end">1294</text>
<line x1="218.5" y1="510.1" x2="218.5" y2="511.5" stroke="#1a1a1a" stroke-width="0.7"/>
<text x="218.5" y="518" font-size="6.85" text-anchor="middle">1295</text>
<line x1="240.2" y1="510.1" x2="240.2" y2="511.5" stroke="#1a1a1a" stroke-width="0.7"/>
<text x="240.2" y="518" font-size="6.85" text-anchor="middle">1296</text>
<line x1="261.9" y1="510.1" x2="261.9" y2="511.5" stroke="#1a1a1a" stroke-width="0.7"/>
<text x="261.9" y="518" font-size="6.85" text-anchor="middle">1297</text>
<line x1="283.6" y1="510.1" x2="283.6" y2="511.5" stroke="#1a1a1a" stroke-width="0.7"/>
<text x="283.6" y="518" font-size="6.85" text-anchor="middle">1298</text>
<line x1="305.3" y1="510.1" x2="305.3" y2="511.5" stroke="#1a1a1a" stroke-width="0.7"/>
<text x="305.3" y="518" font-size="6.85" text-anchor="middle">1299</text>
<line x1="327" y1="510.1" x2="327" y2="511.5" stroke="#1a1a1a" stroke-width="0.7"/>
<text x="327" y="518" font-size="6.85" text-anchor="middle">1300</text>
<text x="274.2" y="526.5" font-size="7" text-anchor="middle">Observed /m</text>
<text transform="translate(186.3 479) rotate(-90)" font-size="7" text-anchor="middle">Predicted /m</text>
<rect x="224.2" y="468.6" width="2.2" height="2.2" fill="#000"/>
<rect x="233.6" y="468.6" width="2.2" height="2.2" fill="#000"/>
<rect x="226.6" y="472.8" width="2.2" height="2.2" fill="#000"/>
<rect x="229.4" y="473.5" width="2.2" height="2.2" fill="#000"/>
<rect x="230.8" y="487.9" width="2.2" height="2.2" fill="#000"/>
<rect x="232.3" y="491.6" width="2.2" height="2.2" fill="#000"/>
<rect x="222.8" y="496" width="2.2" height="2.2" fill="#000"/>
<rect x="229.6" y="494" width="2.2" height="2.2" fill="#000"/>
<rect x="230.8" y="496" width="2.2" height="2.2" fill="#000"/>
<rect x="232.2" y="494.9" width="2.2" height="2.2" fill="#000"/>
<rect x="233.2" y="496.2" width="2.2" height="2.2" fill="#000"/>
<rect x="233.9" y="495.9" width="2.2" height="2.2" fill="#000"/>
<rect x="230.5" y="496.6" width="2.2" height="2.2" fill="#000"/>
<rect x="293.6" y="468.3" width="2.2" height="2.2" fill="#000"/>
<rect x="293.3" y="471.1" width="2.2" height="2.2" fill="#000"/>
<rect x="298.8" y="468.3" width="2.2" height="2.2" fill="#000"/>
<rect x="299.9" y="464.5" width="2.2" height="2.2" fill="#000"/>
<rect x="301.2" y="467.2" width="2.2" height="2.2" fill="#000"/>
<rect x="302.5" y="465.3" width="2.2" height="2.2" fill="#000"/>
<rect x="304" y="464.5" width="2.2" height="2.2" fill="#000"/>
<rect x="304.6" y="466.9" width="2.2" height="2.2" fill="#000"/>
<rect x="305.8" y="465.9" width="2.2" height="2.2" fill="#000"/>
<rect x="306.6" y="467.2" width="2.2" height="2.2" fill="#000"/>
<rect x="307.5" y="463" width="2.2" height="2.2" fill="#000"/>
<rect x="308.7" y="461.7" width="2.2" height="2.2" fill="#000"/>
<rect x="307.7" y="469" width="2.2" height="2.2" fill="#000"/>
<rect x="308.9" y="470.6" width="2.2" height="2.2" fill="#000"/>
<rect x="310.3" y="468.3" width="2.2" height="2.2" fill="#000"/>
<rect x="312.4" y="466.4" width="2.2" height="2.2" fill="#000"/>
<rect x="313.4" y="464.8" width="2.2" height="2.2" fill="#000"/>
<rect x="314" y="468.5" width="2.2" height="2.2" fill="#000"/>
<rect x="315" y="471.1" width="2.2" height="2.2" fill="#000"/>
<rect x="315.5" y="469.5" width="2.2" height="2.2" fill="#000"/>
<rect x="316.9" y="464.3" width="2.2" height="2.2" fill="#000"/>
<rect x="317.6" y="465.9" width="2.2" height="2.2" fill="#000"/>
<rect x="320" y="468.3" width="2.2" height="2.2" fill="#000"/>
<rect x="321.8" y="469.5" width="2.2" height="2.2" fill="#000"/>
<rect x="322.3" y="467.9" width="2.2" height="2.2" fill="#000"/>
<line x1="223.9" y1="488.7" x2="323.1" y2="465.5" stroke="#f00" stroke-width="1.1"/>
<text x="210" y="456.6" font-size="7" text-anchor="start">y = 0.613x + 503.082</text>
<text x="210" y="465.9" font-size="7" text-anchor="start">R<tspan font-size="4.3" dy="-2.7">2</tspan><tspan dy="2.7"> = 0.618</tspan></text>
<text x="175.9" y="266.6" font-size="9.6" text-anchor="middle" font-weight="bold">(b)</text>
<text x="175.6" y="545.5" font-size="9.6" text-anchor="middle" font-weight="bold">(c)</text>
</svg>
</body></html>
